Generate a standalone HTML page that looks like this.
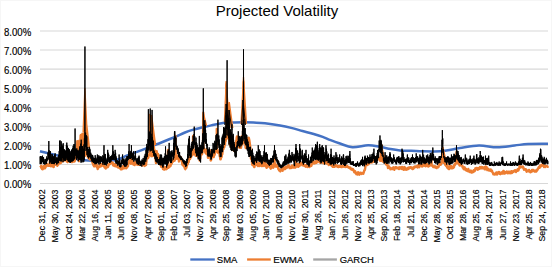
<!DOCTYPE html>
<html><head><meta charset="utf-8"><title>Projected Volatility</title>
<style>
html,body{margin:0;padding:0;background:#fff;}
body{width:552px;height:267px;overflow:hidden;position:relative;font-family:"Liberation Sans",sans-serif;}
svg text{font-family:"Liberation Sans",sans-serif;}
</style></head><body>
<svg width="552" height="267" viewBox="0 0 552 267" style="position:absolute;left:0;top:0">
<rect x="0.5" y="0.5" width="551" height="266" fill="none" stroke="#f6f6f6" stroke-width="1"/>
<text x="277" y="16" font-size="15.0" text-anchor="middle" fill="#000">Projected Volatility</text>
<line x1="40" y1="183.50" x2="548" y2="183.50" stroke="#d8d8d8" stroke-width="1.1"/>
<text x="0" y="0" font-size="9.6" text-anchor="end" fill="#000" stroke="#000" stroke-width="0.15" transform="translate(31.2 188.10) scale(1 1.05)">0.00%</text>
<line x1="40" y1="164.43" x2="548" y2="164.43" stroke="#d8d8d8" stroke-width="1.1"/>
<text x="0" y="0" font-size="9.6" text-anchor="end" fill="#000" stroke="#000" stroke-width="0.15" transform="translate(31.2 169.03) scale(1 1.05)">1.00%</text>
<line x1="40" y1="145.36" x2="548" y2="145.36" stroke="#d8d8d8" stroke-width="1.1"/>
<text x="0" y="0" font-size="9.6" text-anchor="end" fill="#000" stroke="#000" stroke-width="0.15" transform="translate(31.2 149.96) scale(1 1.05)">2.00%</text>
<line x1="40" y1="126.29" x2="548" y2="126.29" stroke="#d8d8d8" stroke-width="1.1"/>
<text x="0" y="0" font-size="9.6" text-anchor="end" fill="#000" stroke="#000" stroke-width="0.15" transform="translate(31.2 130.89) scale(1 1.05)">3.00%</text>
<line x1="40" y1="107.22" x2="548" y2="107.22" stroke="#d8d8d8" stroke-width="1.1"/>
<text x="0" y="0" font-size="9.6" text-anchor="end" fill="#000" stroke="#000" stroke-width="0.15" transform="translate(31.2 111.82) scale(1 1.05)">4.00%</text>
<line x1="40" y1="88.15" x2="548" y2="88.15" stroke="#d8d8d8" stroke-width="1.1"/>
<text x="0" y="0" font-size="9.6" text-anchor="end" fill="#000" stroke="#000" stroke-width="0.15" transform="translate(31.2 92.75) scale(1 1.05)">5.00%</text>
<line x1="40" y1="69.08" x2="548" y2="69.08" stroke="#d8d8d8" stroke-width="1.1"/>
<text x="0" y="0" font-size="9.6" text-anchor="end" fill="#000" stroke="#000" stroke-width="0.15" transform="translate(31.2 73.68) scale(1 1.05)">6.00%</text>
<line x1="40" y1="50.01" x2="548" y2="50.01" stroke="#d8d8d8" stroke-width="1.1"/>
<text x="0" y="0" font-size="9.6" text-anchor="end" fill="#000" stroke="#000" stroke-width="0.15" transform="translate(31.2 54.61) scale(1 1.05)">7.00%</text>
<line x1="40" y1="30.94" x2="548" y2="30.94" stroke="#d8d8d8" stroke-width="1.1"/>
<text x="0" y="0" font-size="9.6" text-anchor="end" fill="#000" stroke="#000" stroke-width="0.15" transform="translate(31.2 35.54) scale(1 1.05)">8.00%</text>
<text x="45.30" y="189.5" font-size="8.75" text-anchor="end" fill="#000" stroke="#000" stroke-width="0.15" transform="rotate(-90 45.30 189.5)">Dec 31, 2002</text>
<text x="58.45" y="189.5" font-size="8.75" text-anchor="end" fill="#000" stroke="#000" stroke-width="0.15" transform="rotate(-90 58.45 189.5)">May 30, 2003</text>
<text x="71.60" y="189.5" font-size="8.75" text-anchor="end" fill="#000" stroke="#000" stroke-width="0.15" transform="rotate(-90 71.60 189.5)">Oct 24, 2003</text>
<text x="84.75" y="189.5" font-size="8.75" text-anchor="end" fill="#000" stroke="#000" stroke-width="0.15" transform="rotate(-90 84.75 189.5)">Mar 22, 2004</text>
<text x="97.90" y="189.5" font-size="8.75" text-anchor="end" fill="#000" stroke="#000" stroke-width="0.15" transform="rotate(-90 97.90 189.5)">Aug 16, 2004</text>
<text x="111.05" y="189.5" font-size="8.75" text-anchor="end" fill="#000" stroke="#000" stroke-width="0.15" transform="rotate(-90 111.05 189.5)">Jan 11, 2005</text>
<text x="124.20" y="189.5" font-size="8.75" text-anchor="end" fill="#000" stroke="#000" stroke-width="0.15" transform="rotate(-90 124.20 189.5)">Jun 08, 2005</text>
<text x="137.35" y="189.5" font-size="8.75" text-anchor="end" fill="#000" stroke="#000" stroke-width="0.15" transform="rotate(-90 137.35 189.5)">Nov 08, 2005</text>
<text x="150.50" y="189.5" font-size="8.75" text-anchor="end" fill="#000" stroke="#000" stroke-width="0.15" transform="rotate(-90 150.50 189.5)">Apr 07, 2006</text>
<text x="163.65" y="189.5" font-size="8.75" text-anchor="end" fill="#000" stroke="#000" stroke-width="0.15" transform="rotate(-90 163.65 189.5)">Sep 01, 2006</text>
<text x="176.80" y="189.5" font-size="8.75" text-anchor="end" fill="#000" stroke="#000" stroke-width="0.15" transform="rotate(-90 176.80 189.5)">Feb 01, 2007</text>
<text x="189.95" y="189.5" font-size="8.75" text-anchor="end" fill="#000" stroke="#000" stroke-width="0.15" transform="rotate(-90 189.95 189.5)">Jul 03, 2007</text>
<text x="203.10" y="189.5" font-size="8.75" text-anchor="end" fill="#000" stroke="#000" stroke-width="0.15" transform="rotate(-90 203.10 189.5)">Nov 27, 2007</text>
<text x="216.25" y="189.5" font-size="8.75" text-anchor="end" fill="#000" stroke="#000" stroke-width="0.15" transform="rotate(-90 216.25 189.5)">Apr 29, 2008</text>
<text x="229.40" y="189.5" font-size="8.75" text-anchor="end" fill="#000" stroke="#000" stroke-width="0.15" transform="rotate(-90 229.40 189.5)">Sep 25, 2008</text>
<text x="242.55" y="189.5" font-size="8.75" text-anchor="end" fill="#000" stroke="#000" stroke-width="0.15" transform="rotate(-90 242.55 189.5)">Mar 03, 2009</text>
<text x="255.70" y="189.5" font-size="8.75" text-anchor="end" fill="#000" stroke="#000" stroke-width="0.15" transform="rotate(-90 255.70 189.5)">Aug 05, 2009</text>
<text x="268.85" y="189.5" font-size="8.75" text-anchor="end" fill="#000" stroke="#000" stroke-width="0.15" transform="rotate(-90 268.85 189.5)">Jan 07, 2010</text>
<text x="282.00" y="189.5" font-size="8.75" text-anchor="end" fill="#000" stroke="#000" stroke-width="0.15" transform="rotate(-90 282.00 189.5)">Jun 08, 2010</text>
<text x="295.15" y="189.5" font-size="8.75" text-anchor="end" fill="#000" stroke="#000" stroke-width="0.15" transform="rotate(-90 295.15 189.5)">Nov 01, 2010</text>
<text x="308.30" y="189.5" font-size="8.75" text-anchor="end" fill="#000" stroke="#000" stroke-width="0.15" transform="rotate(-90 308.30 189.5)">Mar 30, 2011</text>
<text x="321.45" y="189.5" font-size="8.75" text-anchor="end" fill="#000" stroke="#000" stroke-width="0.15" transform="rotate(-90 321.45 189.5)">Aug 26, 2011</text>
<text x="334.60" y="189.5" font-size="8.75" text-anchor="end" fill="#000" stroke="#000" stroke-width="0.15" transform="rotate(-90 334.60 189.5)">Jan 27, 2012</text>
<text x="347.75" y="189.5" font-size="8.75" text-anchor="end" fill="#000" stroke="#000" stroke-width="0.15" transform="rotate(-90 347.75 189.5)">Jun 26, 2012</text>
<text x="360.90" y="189.5" font-size="8.75" text-anchor="end" fill="#000" stroke="#000" stroke-width="0.15" transform="rotate(-90 360.90 189.5)">Nov 23, 2012</text>
<text x="374.05" y="189.5" font-size="8.75" text-anchor="end" fill="#000" stroke="#000" stroke-width="0.15" transform="rotate(-90 374.05 189.5)">Apr 25, 2013</text>
<text x="387.20" y="189.5" font-size="8.75" text-anchor="end" fill="#000" stroke="#000" stroke-width="0.15" transform="rotate(-90 387.20 189.5)">Sep 20, 2013</text>
<text x="400.35" y="189.5" font-size="8.75" text-anchor="end" fill="#000" stroke="#000" stroke-width="0.15" transform="rotate(-90 400.35 189.5)">Feb 18, 2014</text>
<text x="413.50" y="189.5" font-size="8.75" text-anchor="end" fill="#000" stroke="#000" stroke-width="0.15" transform="rotate(-90 413.50 189.5)">Jul 21, 2014</text>
<text x="426.65" y="189.5" font-size="8.75" text-anchor="end" fill="#000" stroke="#000" stroke-width="0.15" transform="rotate(-90 426.65 189.5)">Dec 26, 2014</text>
<text x="439.80" y="189.5" font-size="8.75" text-anchor="end" fill="#000" stroke="#000" stroke-width="0.15" transform="rotate(-90 439.80 189.5)">May 28, 2015</text>
<text x="452.95" y="189.5" font-size="8.75" text-anchor="end" fill="#000" stroke="#000" stroke-width="0.15" transform="rotate(-90 452.95 189.5)">Oct 26, 2015</text>
<text x="466.10" y="189.5" font-size="8.75" text-anchor="end" fill="#000" stroke="#000" stroke-width="0.15" transform="rotate(-90 466.10 189.5)">Mar 28, 2016</text>
<text x="479.25" y="189.5" font-size="8.75" text-anchor="end" fill="#000" stroke="#000" stroke-width="0.15" transform="rotate(-90 479.25 189.5)">Aug 25, 2016</text>
<text x="492.40" y="189.5" font-size="8.75" text-anchor="end" fill="#000" stroke="#000" stroke-width="0.15" transform="rotate(-90 492.40 189.5)">Jan 24, 2017</text>
<text x="505.55" y="189.5" font-size="8.75" text-anchor="end" fill="#000" stroke="#000" stroke-width="0.15" transform="rotate(-90 505.55 189.5)">Jun 27, 2017</text>
<text x="518.70" y="189.5" font-size="8.75" text-anchor="end" fill="#000" stroke="#000" stroke-width="0.15" transform="rotate(-90 518.70 189.5)">Nov 23, 2017</text>
<text x="531.85" y="189.5" font-size="8.75" text-anchor="end" fill="#000" stroke="#000" stroke-width="0.15" transform="rotate(-90 531.85 189.5)">Apr 25, 2018</text>
<text x="545.00" y="189.5" font-size="8.75" text-anchor="end" fill="#000" stroke="#000" stroke-width="0.15" transform="rotate(-90 545.00 189.5)">Sep 24, 2018</text>
<path d="M40.00,151.20 C41.87,151.67 46.90,153.05 51.20,154.00 C55.50,154.95 60.17,155.87 65.80,156.90 C71.43,157.93 79.30,159.53 85.00,160.20 C90.70,160.87 94.68,160.98 100.00,160.90 C105.32,160.82 112.23,160.65 116.90,159.70 C121.57,158.75 123.32,157.00 128.00,155.20 C132.68,153.40 140.08,150.77 145.00,148.90 C149.92,147.03 152.92,145.82 157.50,144.00 C162.08,142.18 167.92,139.92 172.50,138.00 C177.08,136.08 181.67,133.85 185.00,132.50 C188.33,131.15 190.00,130.65 192.50,129.90 C195.00,129.15 196.88,128.75 200.00,128.00 C203.12,127.25 207.03,126.27 211.20,125.40 C215.37,124.53 221.03,123.30 225.00,122.80 C228.97,122.30 231.67,122.48 235.00,122.40 C238.33,122.32 241.88,122.27 245.00,122.30 C248.12,122.33 250.37,122.43 253.70,122.60 C257.03,122.77 260.62,122.82 265.00,123.30 C269.38,123.78 275.63,124.73 280.00,125.50 C284.37,126.27 287.45,126.98 291.20,127.90 C294.95,128.82 298.75,129.98 302.50,131.00 C306.25,132.02 310.33,133.02 313.70,134.00 C317.07,134.98 319.88,135.87 322.70,136.90 C325.52,137.93 327.72,139.10 330.60,140.20 C333.48,141.30 336.37,142.33 340.00,143.50 C343.63,144.67 347.72,146.92 352.40,147.20 C357.08,147.48 363.62,145.30 368.10,145.20 C372.58,145.10 375.55,145.95 379.30,146.60 C383.05,147.25 387.15,148.47 390.60,149.10 C394.05,149.73 396.57,150.12 400.00,150.40 C403.43,150.68 407.45,150.65 411.20,150.80 C414.95,150.95 418.75,151.18 422.50,151.30 C426.25,151.42 429.95,151.58 433.70,151.50 C437.45,151.42 440.62,151.37 445.00,150.80 C449.38,150.23 454.33,148.98 460.00,148.10 C465.67,147.22 472.83,145.63 479.00,145.50 C485.17,145.37 491.08,147.30 497.00,147.30 C502.92,147.30 509.33,146.05 514.50,145.50 C519.67,144.95 522.42,144.28 528.00,144.00 C533.58,143.72 544.67,143.83 548.00,143.80" fill="none" stroke="#4472c4" stroke-width="2.5" stroke-linejoin="round"/><path d="M40.00,167.53 L40.33,167.43 L40.67,166.81 L41.00,166.88 L41.33,165.68 L41.67,168.16 L42.00,169.01 L42.33,167.92 L42.67,169.26 L43.00,168.55 L43.33,167.03 L43.67,168.61 L44.00,165.86 L44.33,167.90 L44.67,168.35 L45.00,168.20 L45.33,167.37 L45.67,166.93 L46.00,165.95 L46.33,164.31 L46.67,165.96 L47.00,165.29 L47.33,164.76 L47.67,164.34 L48.00,165.18 L48.33,165.68 L48.67,165.82 L49.00,164.72 L49.33,165.82 L49.67,165.82 L49.99,156.84 L50.00,165.11 L50.33,165.98 L50.67,163.88 L51.00,166.29 L51.33,164.79 L51.67,163.33 L52.00,164.46 L52.33,164.65 L52.67,164.90 L53.00,165.93 L53.33,166.99 L53.67,166.99 L54.00,164.32 L54.33,164.50 L54.67,164.20 L55.00,164.31 L55.33,164.32 L55.67,164.36 L56.00,164.80 L56.33,164.67 L56.67,165.10 L57.00,164.97 L57.33,165.77 L57.67,165.04 L58.00,162.45 L58.33,164.47 L58.67,162.39 L59.00,162.72 L59.33,160.33 L59.67,159.56 L60.00,161.14 L60.33,161.49 L60.67,163.19 L61.00,158.50 L61.33,162.43 L61.67,159.80 L62.00,160.23 L62.33,159.70 L62.67,160.14 L63.00,158.71 L63.33,159.15 L63.67,161.16 L64.00,158.29 L64.33,159.59 L64.67,158.09 L65.00,157.97 L65.33,157.79 L65.67,159.96 L66.00,160.43 L66.33,160.43 L66.67,161.42 L67.00,158.71 L67.33,159.22 L67.67,162.18 L68.00,158.69 L68.33,160.98 L68.67,160.88 L69.00,158.49 L69.33,159.60 L69.67,158.93 L70.00,158.55 L70.33,159.72 L70.67,159.44 L71.00,161.57 L71.33,161.03 L71.67,160.79 L72.00,162.11 L72.33,161.94 L72.67,159.78 L73.00,157.56 L73.33,158.75 L73.67,159.28 L74.00,161.66 L74.33,161.51 L74.67,161.36 L75.00,159.58 L75.33,154.88 L75.67,156.29 L76.00,157.17 L76.33,153.02 L76.67,152.91 L77.00,151.85 L77.33,141.09 L77.67,151.70 L78.00,145.39 L78.33,157.54 L78.67,151.27 L79.00,161.31 L79.33,140.78 L79.67,141.20 L80.00,141.65 L80.33,143.09 L80.67,135.28 L81.00,134.97 L81.33,156.60 L81.67,139.73 L82.00,135.27 L82.33,140.80 L82.50,133.61 L82.67,143.94 L83.00,143.75 L83.33,149.38 L83.67,156.47 L84.00,153.74 L84.33,153.40 L84.59,126.64 L84.67,153.77 L85.00,155.79 L85.33,154.18 L85.67,154.94 L86.00,154.45 L86.33,153.00 L86.67,154.61 L87.00,151.92 L87.33,153.71 L87.67,155.25 L88.00,157.58 L88.33,156.15 L88.67,156.15 L89.00,157.88 L89.33,158.80 L89.67,159.33 L90.00,157.96 L90.33,156.95 L90.67,157.95 L91.00,157.91 L91.33,159.71 L91.67,160.08 L92.00,160.21 L92.33,161.76 L92.67,163.32 L93.00,163.30 L93.33,165.04 L93.67,164.75 L94.00,166.26 L94.33,164.20 L94.67,166.28 L95.00,164.27 L95.33,164.97 L95.67,166.07 L96.00,165.67 L96.33,165.45 L96.67,164.48 L97.00,167.15 L97.33,167.36 L97.67,169.02 L98.00,168.16 L98.33,167.55 L98.67,167.19 L99.00,166.25 L99.33,166.93 L99.67,166.47 L100.00,164.39 L100.33,164.44 L100.67,163.88 L101.00,166.43 L101.33,165.42 L101.67,165.87 L102.00,165.18 L102.33,163.96 L102.67,165.09 L103.00,164.26 L103.33,165.53 L103.67,165.82 L104.00,165.60 L104.33,166.71 L104.67,167.56 L105.00,167.57 L105.33,167.85 L105.67,168.55 L106.00,166.69 L106.33,166.49 L106.67,167.62 L107.00,166.90 L107.33,165.24 L107.67,165.14 L108.00,167.02 L108.33,165.81 L108.67,164.29 L109.00,164.49 L109.33,164.47 L109.67,162.90 L110.00,164.08 L110.33,162.10 L110.67,162.20 L111.00,161.70 L111.33,163.11 L111.67,162.47 L112.00,162.90 L112.33,162.43 L112.67,162.74 L113.00,164.89 L113.33,165.53 L113.67,164.58 L114.00,165.39 L114.33,164.26 L114.67,165.99 L115.00,164.46 L115.33,164.82 L115.67,166.19 L116.00,165.18 L116.33,166.38 L116.67,165.87 L117.00,165.26 L117.33,166.72 L117.67,167.12 L118.00,167.21 L118.33,167.54 L118.67,166.32 L119.00,166.42 L119.33,167.63 L119.67,168.19 L120.00,167.36 L120.33,168.11 L120.67,168.33 L121.00,169.35 L121.33,168.59 L121.67,169.38 L122.00,168.82 L122.33,166.40 L122.67,166.24 L123.00,168.03 L123.33,165.94 L123.67,167.13 L124.00,168.42 L124.33,167.08 L124.67,166.49 L125.00,167.25 L125.33,165.41 L125.67,166.04 L126.00,168.39 L126.33,167.98 L126.67,167.77 L127.00,167.50 L127.33,166.09 L127.67,166.55 L128.00,166.14 L128.33,163.37 L128.67,163.07 L129.00,162.51 L129.33,161.11 L129.67,159.67 L130.00,160.73 L130.33,162.68 L130.67,161.93 L131.00,163.70 L131.33,160.18 L131.40,153.35 L131.67,159.03 L132.00,162.01 L132.33,161.65 L132.67,161.16 L133.00,163.78 L133.33,164.38 L133.67,164.18 L134.00,164.68 L134.33,164.70 L134.67,164.95 L135.00,162.59 L135.33,161.91 L135.67,162.13 L136.00,163.62 L136.33,163.98 L136.67,163.45 L137.00,164.51 L137.33,164.63 L137.67,164.69 L138.00,164.73 L138.33,164.67 L138.67,163.67 L139.00,164.71 L139.33,164.87 L139.67,164.23 L140.00,164.47 L140.33,164.48 L140.67,164.65 L141.00,164.82 L141.33,164.98 L141.67,165.22 L142.00,165.61 L142.33,165.46 L142.67,164.43 L143.00,164.28 L143.33,165.08 L143.67,163.98 L144.00,164.80 L144.33,165.64 L144.67,165.89 L145.00,163.88 L145.33,165.35 L145.67,162.43 L146.00,165.02 L146.33,161.90 L146.67,159.01 L147.00,157.71 L147.33,156.88 L147.67,156.47 L148.00,158.19 L148.33,157.53 L148.67,154.98 L149.00,154.73 L149.33,153.81 L149.67,153.63 L149.75,115.03 L150.00,150.42 L150.33,151.49 L150.67,152.87 L151.00,155.63 L151.33,156.19 L151.67,156.11 L152.00,153.45 L152.33,156.16 L152.67,145.31 L153.00,152.95 L153.33,151.80 L153.67,145.64 L154.00,147.74 L154.33,156.03 L154.67,150.09 L155.00,153.98 L155.33,158.60 L155.67,159.86 L156.00,163.10 L156.33,156.99 L156.67,151.17 L157.00,156.98 L157.33,157.47 L157.67,156.86 L158.00,153.87 L158.33,155.77 L158.67,155.77 L159.00,160.88 L159.33,158.47 L159.67,161.81 L160.00,164.59 L160.33,163.34 L160.67,162.65 L161.00,165.74 L161.33,166.82 L161.67,166.34 L162.00,165.42 L162.33,166.40 L162.67,167.00 L163.00,169.15 L163.33,167.96 L163.67,166.84 L164.00,169.58 L164.33,169.38 L164.67,169.48 L165.00,168.87 L165.33,168.70 L165.67,167.15 L166.00,168.24 L166.33,169.22 L166.67,166.92 L167.00,168.49 L167.33,166.33 L167.67,164.48 L168.00,149.87 L168.00,167.73 L168.33,167.84 L168.67,167.54 L169.00,165.84 L169.33,166.93 L169.67,166.58 L170.00,166.05 L170.33,166.03 L170.67,165.77 L171.00,161.49 L171.33,163.08 L171.67,163.76 L172.00,161.70 L172.33,160.30 L172.67,161.20 L173.00,161.53 L173.33,159.23 L173.67,158.27 L174.00,158.33 L174.33,159.97 L174.67,160.77 L175.00,156.93 L175.33,155.97 L175.43,135.93 L175.67,156.40 L176.00,156.97 L176.33,155.35 L176.67,158.73 L177.00,156.06 L177.33,157.01 L177.67,156.70 L178.00,156.35 L178.33,155.52 L178.67,158.11 L179.00,161.52 L179.33,160.37 L179.67,158.35 L180.00,159.21 L180.33,157.67 L180.67,157.12 L181.00,159.03 L181.33,158.65 L181.67,159.42 L182.00,161.74 L182.33,164.71 L182.67,162.37 L183.00,165.22 L183.33,165.56 L183.67,164.98 L184.00,163.84 L184.33,166.76 L184.67,167.60 L185.00,168.68 L185.33,169.18 L185.67,168.07 L186.00,165.62 L186.33,167.89 L186.67,166.14 L187.00,164.57 L187.33,164.70 L187.67,164.11 L188.00,162.57 L188.33,161.80 L188.67,162.06 L189.00,158.66 L189.33,158.93 L189.67,157.03 L190.00,159.03 L190.33,155.55 L190.67,154.38 L191.00,157.40 L191.33,154.79 L191.67,155.47 L192.00,155.44 L192.33,152.02 L192.67,154.86 L193.00,151.84 L193.08,135.93 L193.33,150.09 L193.67,152.18 L194.00,150.13 L194.33,150.46 L194.67,152.35 L195.00,154.51 L195.33,154.17 L195.67,155.78 L196.00,152.24 L196.33,153.24 L196.67,153.65 L197.00,155.82 L197.33,155.07 L197.67,155.68 L198.00,156.57 L198.33,154.98 L198.67,156.75 L199.00,157.78 L199.33,158.08 L199.67,160.55 L200.00,157.18 L200.33,158.28 L200.67,154.04 L201.00,152.88 L201.33,154.05 L201.67,151.55 L202.00,154.26 L202.33,152.64 L202.67,151.81 L203.00,149.30 L203.30,112.71 L203.33,145.07 L203.67,147.37 L204.00,149.05 L204.33,149.11 L204.67,149.32 L205.00,150.26 L205.33,152.69 L205.67,151.93 L206.00,153.52 L206.33,151.32 L206.67,149.36 L207.00,153.78 L207.33,154.52 L207.67,153.70 L208.00,157.81 L208.33,156.61 L208.67,155.66 L209.00,157.25 L209.33,153.31 L209.67,151.53 L210.00,150.32 L210.33,152.49 L210.67,160.54 L211.00,160.31 L211.33,158.99 L211.67,152.57 L212.00,156.23 L212.33,155.30 L212.67,156.01 L213.00,155.11 L213.33,156.42 L213.67,157.11 L214.00,155.77 L214.33,152.34 L214.67,154.86 L215.00,152.25 L215.33,152.10 L215.67,149.16 L216.00,151.33 L216.33,150.62 L216.67,149.68 L216.77,128.97 L217.00,149.34 L217.33,149.46 L217.67,152.68 L218.00,151.51 L218.33,151.49 L218.67,152.40 L219.00,151.86 L219.33,152.50 L219.67,155.91 L220.00,156.67 L220.33,159.35 L220.67,159.33 L221.00,157.24 L221.33,157.27 L221.67,156.69 L222.00,152.42 L222.33,154.10 L222.67,149.03 L223.00,147.94 L223.33,149.29 L223.67,147.68 L224.00,147.15 L224.33,147.15 L224.67,143.02 L225.00,144.77 L225.33,139.51 L225.67,141.12 L226.00,135.05 L226.33,135.02 L226.52,115.03 L226.67,137.84 L227.00,135.96 L227.33,138.30 L227.67,135.93 L228.00,135.97 L228.33,137.78 L228.67,138.11 L229.00,138.37 L229.33,140.93 L229.67,141.01 L230.00,145.29 L230.33,144.06 L230.67,145.48 L231.00,143.50 L231.33,144.84 L231.67,148.53 L232.00,149.57 L232.33,146.00 L232.67,146.78 L233.00,147.55 L233.33,147.07 L233.67,148.06 L234.00,150.77 L234.33,148.30 L234.67,146.94 L235.00,147.47 L235.33,146.15 L235.67,145.87 L236.00,141.19 L236.33,141.98 L236.67,137.83 L237.00,136.40 L237.33,138.37 L237.67,142.41 L238.00,147.11 L238.33,144.47 L238.67,143.63 L239.00,145.75 L239.33,143.97 L239.67,147.86 L240.00,145.52 L240.33,144.24 L240.67,141.24 L241.00,147.88 L241.33,145.64 L241.67,136.34 L242.00,140.26 L242.33,144.28 L242.67,137.93 L243.00,141.25 L243.15,115.03 L243.33,142.33 L243.67,141.21 L244.00,143.02 L244.33,139.87 L244.67,142.92 L245.00,142.22 L245.33,144.12 L245.67,147.98 L246.00,146.15 L246.33,139.54 L246.67,141.65 L247.00,143.82 L247.33,141.45 L247.67,141.43 L248.00,138.15 L248.33,141.35 L248.67,137.58 L249.00,138.91 L249.33,140.24 L249.67,142.44 L250.00,144.98 L250.33,147.42 L250.67,154.87 L251.00,158.97 L251.33,156.76 L251.67,158.58 L252.00,162.30 L252.33,164.94 L252.67,162.51 L253.00,164.01 L253.33,165.14 L253.67,158.36 L254.00,166.74 L254.33,167.09 L254.67,160.60 L255.00,160.71 L255.33,165.41 L255.67,162.32 L256.00,160.04 L256.33,159.79 L256.67,162.77 L257.00,164.33 L257.33,165.08 L257.67,165.59 L258.00,166.03 L258.33,163.41 L258.67,163.62 L259.00,163.22 L259.33,164.64 L259.67,165.98 L260.00,163.04 L260.33,165.43 L260.67,165.57 L261.00,165.61 L261.33,165.30 L261.67,165.00 L262.00,166.13 L262.33,164.61 L262.67,163.94 L263.00,164.54 L263.33,161.99 L263.67,164.52 L264.00,165.99 L264.33,164.28 L264.67,164.25 L265.00,165.05 L265.33,162.36 L265.67,163.62 L266.00,165.51 L266.33,167.24 L266.67,167.80 L267.00,167.45 L267.33,165.86 L267.67,166.95 L268.00,165.61 L268.33,163.94 L268.67,165.85 L269.00,166.05 L269.33,164.57 L269.67,164.61 L270.00,165.45 L270.33,167.82 L270.67,168.64 L271.00,167.45 L271.33,165.35 L271.67,167.95 L272.00,167.05 L272.33,166.66 L272.67,164.81 L273.00,166.87 L273.33,167.63 L273.67,164.14 L274.00,163.54 L274.33,165.80 L274.50,156.84 L274.67,163.50 L275.00,163.51 L275.33,166.48 L275.67,164.61 L276.00,164.51 L276.33,164.70 L276.67,165.43 L277.00,166.60 L277.33,166.95 L277.67,166.26 L278.00,167.60 L278.33,169.10 L278.67,168.79 L279.00,170.38 L279.33,170.50 L279.67,170.05 L280.00,170.93 L280.33,171.39 L280.67,170.34 L281.00,169.61 L281.33,170.25 L281.67,169.18 L282.00,168.62 L282.33,170.07 L282.67,170.78 L283.00,169.11 L283.33,167.86 L283.67,168.93 L284.00,167.55 L284.33,167.40 L284.67,167.28 L285.00,169.19 L285.33,168.10 L285.67,167.23 L286.00,167.63 L286.33,168.00 L286.67,166.59 L287.00,166.45 L287.33,167.52 L287.67,166.28 L288.00,165.78 L288.33,166.13 L288.67,165.13 L289.00,166.66 L289.33,166.81 L289.67,168.15 L290.00,168.15 L290.33,166.87 L290.67,166.74 L291.00,168.15 L291.33,167.07 L291.67,167.46 L292.00,165.36 L292.33,167.16 L292.67,166.42 L293.00,167.55 L293.33,167.14 L293.67,165.75 L294.00,167.61 L294.33,167.39 L294.67,165.64 L295.00,166.87 L295.33,167.58 L295.67,165.06 L296.00,156.84 L296.00,165.26 L296.33,164.55 L296.67,164.73 L297.00,166.61 L297.33,165.58 L297.67,164.22 L298.00,164.86 L298.33,166.73 L298.67,164.60 L299.00,163.86 L299.33,165.61 L299.67,165.76 L300.00,164.58 L300.33,163.72 L300.67,163.50 L301.00,162.69 L301.33,164.20 L301.67,162.97 L302.00,163.48 L302.33,165.40 L302.67,164.30 L303.00,163.63 L303.33,164.52 L303.67,164.27 L304.00,165.65 L304.33,165.83 L304.67,164.92 L305.00,165.67 L305.33,165.33 L305.67,166.69 L306.00,165.74 L306.33,165.08 L306.67,166.32 L307.00,166.41 L307.33,166.91 L307.67,166.68 L308.00,166.02 L308.33,165.96 L308.67,165.39 L309.00,166.09 L309.33,167.00 L309.67,166.34 L310.00,165.23 L310.33,165.95 L310.67,166.21 L311.00,165.91 L311.33,165.67 L311.67,164.85 L312.00,162.09 L312.33,163.34 L312.67,162.96 L313.00,162.98 L313.33,161.26 L313.67,162.30 L314.00,163.52 L314.33,163.37 L314.67,162.00 L315.00,161.61 L315.33,162.30 L315.67,161.78 L316.00,162.92 L316.33,162.69 L316.67,161.19 L317.00,162.44 L317.33,160.10 L317.67,160.45 L318.00,159.53 L318.33,160.51 L318.53,154.51 L318.67,159.31 L319.00,161.59 L319.33,159.37 L319.67,162.47 L320.00,161.73 L320.33,162.75 L320.67,160.62 L321.00,161.22 L321.33,161.76 L321.67,161.52 L322.00,162.41 L322.33,162.42 L322.67,162.30 L323.00,162.61 L323.33,163.31 L323.67,163.01 L324.00,163.35 L324.33,163.11 L324.67,161.72 L325.00,162.96 L325.33,160.81 L325.67,161.92 L326.00,161.75 L326.33,161.96 L326.67,163.65 L327.00,161.79 L327.33,161.82 L327.67,163.58 L328.00,163.62 L328.33,163.91 L328.67,165.01 L329.00,163.63 L329.33,164.35 L329.67,164.48 L330.00,163.31 L330.33,163.42 L330.67,164.93 L331.00,164.65 L331.33,164.29 L331.67,165.26 L332.00,165.99 L332.33,165.34 L332.67,166.76 L333.00,165.83 L333.33,166.31 L333.67,165.54 L334.00,166.66 L334.33,166.52 L334.67,166.64 L335.00,165.64 L335.33,165.80 L335.67,165.09 L336.00,165.53 L336.33,166.14 L336.67,165.97 L337.00,165.70 L337.33,166.00 L337.67,166.84 L338.00,166.99 L338.33,166.38 L338.67,166.99 L339.00,165.95 L339.33,165.92 L339.67,166.21 L340.00,166.74 L340.33,165.96 L340.67,166.43 L341.00,166.70 L341.33,166.99 L341.67,166.38 L342.00,166.99 L342.33,166.66 L342.67,166.11 L343.00,165.72 L343.33,166.16 L343.67,165.31 L344.00,166.66 L344.33,166.10 L344.67,166.05 L345.00,165.66 L345.33,166.99 L345.67,166.66 L346.00,166.27 L346.33,166.75 L346.67,166.06 L347.00,165.73 L347.33,166.11 L347.67,166.85 L348.00,166.88 L348.33,167.50 L348.67,167.46 L349.00,167.19 L349.33,167.92 L349.67,167.65 L350.00,167.50 L350.33,167.75 L350.67,168.94 L351.00,169.15 L351.33,168.74 L351.67,168.81 L352.00,169.72 L352.33,169.29 L352.67,168.93 L353.00,169.18 L353.33,170.42 L353.67,170.48 L354.00,171.47 L354.33,172.37 L354.67,172.20 L355.00,171.03 L355.33,171.86 L355.67,173.19 L356.00,172.95 L356.33,174.09 L356.67,173.87 L357.00,173.11 L357.33,174.56 L357.67,172.57 L358.00,173.02 L358.33,172.25 L358.67,172.85 L359.00,174.32 L359.33,174.65 L359.67,174.08 L360.00,173.00 L360.33,172.78 L360.67,172.75 L361.00,173.53 L361.33,173.11 L361.67,173.94 L362.00,172.97 L362.33,173.22 L362.67,173.39 L363.00,173.02 L363.33,173.62 L363.67,172.50 L364.00,171.75 L364.33,170.19 L364.67,170.35 L365.00,169.21 L365.33,167.11 L365.67,165.39 L366.00,164.17 L366.33,163.44 L366.67,163.28 L367.00,164.72 L367.33,164.90 L367.67,164.14 L368.00,164.04 L368.33,163.51 L368.67,164.13 L369.00,163.30 L369.33,161.87 L369.67,162.43 L370.00,161.95 L370.33,161.94 L370.67,161.69 L371.00,162.60 L371.33,162.26 L371.67,162.07 L372.00,161.55 L372.33,161.04 L372.67,162.22 L373.00,160.89 L373.33,160.37 L373.67,161.48 L374.00,161.43 L374.33,161.59 L374.67,160.30 L375.00,159.73 L375.33,159.25 L375.67,158.59 L376.00,158.71 L376.33,157.29 L376.67,157.48 L377.00,158.91 L377.33,158.13 L377.67,158.45 L378.00,158.13 L378.33,157.45 L378.67,158.15 L379.00,158.06 L379.33,159.73 L379.67,158.86 L380.00,160.00 L380.33,158.23 L380.67,158.95 L381.00,157.07 L381.33,156.36 L381.37,145.22 L381.67,157.15 L382.00,159.83 L382.33,160.28 L382.67,161.31 L383.00,161.61 L383.33,160.82 L383.67,160.04 L384.00,159.88 L384.33,160.99 L384.67,162.35 L385.00,160.26 L385.33,161.56 L385.67,162.72 L386.00,164.47 L386.33,164.61 L386.67,163.81 L387.00,163.99 L387.33,165.16 L387.67,165.90 L388.00,168.03 L388.33,165.71 L388.67,167.89 L389.00,166.41 L389.33,167.28 L389.67,167.92 L390.00,167.82 L390.33,169.30 L390.67,169.09 L391.00,168.43 L391.33,168.74 L391.67,168.90 L392.00,168.14 L392.33,168.47 L392.67,169.11 L393.00,167.94 L393.33,167.36 L393.67,167.73 L394.00,168.98 L394.33,169.77 L394.67,168.36 L395.00,168.10 L395.33,167.16 L395.67,167.72 L396.00,167.16 L396.33,167.46 L396.67,168.31 L397.00,167.55 L397.33,168.37 L397.67,168.42 L398.00,168.30 L398.33,168.53 L398.67,167.58 L399.00,169.09 L399.33,167.98 L399.67,168.42 L400.00,167.25 L400.33,167.99 L400.67,167.96 L401.00,168.01 L401.33,168.91 L401.67,168.71 L402.00,166.97 L402.33,168.66 L402.67,167.73 L403.00,168.99 L403.33,169.52 L403.67,169.72 L404.00,168.49 L404.33,167.06 L404.67,169.49 L405.00,167.48 L405.33,168.59 L405.67,168.68 L406.00,168.98 L406.33,169.69 L406.67,168.85 L407.00,169.54 L407.33,169.10 L407.67,167.87 L408.00,169.13 L408.33,168.83 L408.67,168.54 L409.00,167.42 L409.33,168.31 L409.67,168.18 L410.00,168.08 L410.33,167.16 L410.67,167.16 L411.00,167.31 L411.33,167.54 L411.67,167.46 L412.00,168.29 L412.33,169.12 L412.67,168.25 L413.00,168.96 L413.33,167.36 L413.67,168.45 L414.00,167.02 L414.33,167.51 L414.67,167.08 L415.00,166.36 L415.33,166.37 L415.67,167.11 L416.00,166.83 L416.33,166.56 L416.67,166.32 L417.00,166.29 L417.33,166.64 L417.67,167.50 L418.00,165.87 L418.33,165.09 L418.67,166.47 L419.00,166.90 L419.33,167.25 L419.67,165.60 L420.00,165.36 L420.33,164.91 L420.67,165.29 L421.00,165.36 L421.33,165.65 L421.67,165.23 L422.00,166.59 L422.33,166.62 L422.67,166.17 L423.00,164.83 L423.33,164.75 L423.67,164.19 L424.00,164.34 L424.33,164.16 L424.67,165.70 L425.00,164.09 L425.33,163.85 L425.67,166.30 L426.00,165.22 L426.33,164.41 L426.67,165.11 L427.00,164.05 L427.33,164.86 L427.67,165.90 L428.00,166.03 L428.33,166.59 L428.67,165.23 L429.00,165.24 L429.33,165.97 L429.67,164.73 L430.00,164.93 L430.33,164.66 L430.67,164.23 L431.00,165.17 L431.33,164.11 L431.43,160.32 L431.67,164.91 L432.00,165.14 L432.33,165.94 L432.67,165.62 L433.00,166.74 L433.33,166.99 L433.67,166.48 L434.00,166.93 L434.33,166.75 L434.67,166.12 L435.00,166.15 L435.33,167.60 L435.67,167.51 L436.00,167.17 L436.33,167.47 L436.67,168.09 L437.00,166.67 L437.33,166.97 L437.67,166.48 L438.00,167.37 L438.33,167.06 L438.67,166.43 L439.00,165.58 L439.33,164.20 L439.67,164.78 L440.00,164.73 L440.33,164.05 L440.67,164.76 L441.00,164.31 L441.33,163.40 L441.67,161.58 L442.00,160.14 L442.33,158.36 L442.67,157.27 L442.81,148.71 L443.00,156.74 L443.33,161.16 L443.67,156.26 L444.00,162.69 L444.33,159.79 L444.67,161.50 L445.00,163.20 L445.33,164.96 L445.67,163.38 L446.00,165.77 L446.33,163.93 L446.67,163.98 L447.00,167.00 L447.33,167.72 L447.67,166.13 L448.00,168.33 L448.33,168.63 L448.67,168.93 L449.00,169.10 L449.33,167.44 L449.67,166.17 L450.00,166.78 L450.33,166.17 L450.67,166.77 L451.00,168.22 L451.33,166.17 L451.67,166.86 L452.00,166.93 L452.33,166.74 L452.67,168.18 L453.00,167.99 L453.33,167.86 L453.67,166.45 L454.00,167.14 L454.33,164.78 L454.67,164.35 L455.00,164.89 L455.33,164.38 L455.67,162.77 L456.00,162.89 L456.33,158.32 L456.51,152.19 L456.67,161.64 L457.00,161.71 L457.33,160.72 L457.67,163.39 L458.00,161.35 L458.33,163.26 L458.67,161.80 L459.00,164.47 L459.33,164.69 L459.67,165.56 L460.00,165.50 L460.33,164.30 L460.67,164.43 L461.00,164.94 L461.33,164.91 L461.67,165.57 L462.00,165.45 L462.33,165.78 L462.67,167.46 L463.00,167.91 L463.33,166.78 L463.67,169.18 L464.00,168.60 L464.33,168.36 L464.67,167.47 L465.00,168.16 L465.33,169.70 L465.67,170.09 L466.00,168.96 L466.33,170.39 L466.67,170.55 L467.00,170.70 L467.33,170.85 L467.67,170.47 L468.00,171.15 L468.33,169.00 L468.67,170.10 L469.00,171.55 L469.33,170.99 L469.67,171.66 L470.00,172.10 L470.33,171.25 L470.67,171.76 L471.00,170.57 L471.33,171.59 L471.67,172.58 L472.00,171.62 L472.33,172.36 L472.67,172.20 L473.00,172.05 L473.33,171.90 L473.67,170.22 L474.00,171.10 L474.33,171.30 L474.67,171.21 L475.00,170.24 L475.33,168.48 L475.67,168.37 L476.00,168.08 L476.33,168.51 L476.67,168.02 L477.00,168.12 L477.33,169.42 L477.67,169.81 L478.00,169.37 L478.33,168.05 L478.67,169.09 L479.00,167.87 L479.33,168.79 L479.67,168.44 L480.00,166.88 L480.33,167.28 L480.67,167.97 L481.00,168.33 L481.33,166.97 L481.67,166.93 L482.00,167.57 L482.33,168.13 L482.67,167.29 L483.00,167.63 L483.33,168.24 L483.67,168.38 L484.00,167.31 L484.33,167.22 L484.67,169.21 L485.00,168.81 L485.33,169.22 L485.67,166.52 L486.00,167.32 L486.33,167.02 L486.67,167.29 L487.00,168.97 L487.33,170.02 L487.67,169.08 L488.00,169.03 L488.33,168.81 L488.67,169.34 L489.00,170.47 L489.33,169.74 L489.67,170.51 L490.00,169.84 L490.33,170.68 L490.67,169.40 L491.00,171.00 L491.33,170.45 L491.67,170.35 L492.00,170.77 L492.33,171.99 L492.67,172.52 L493.00,172.92 L493.33,174.22 L493.67,173.97 L494.00,174.19 L494.33,173.79 L494.67,174.65 L495.00,174.66 L495.33,173.67 L495.67,173.98 L496.00,173.30 L496.33,172.47 L496.67,173.07 L497.00,174.58 L497.33,173.72 L497.67,173.19 L498.00,172.81 L498.33,172.14 L498.67,172.04 L499.00,171.94 L499.33,172.24 L499.67,173.90 L500.00,173.88 L500.33,174.22 L500.67,173.83 L501.00,173.09 L501.33,172.69 L501.67,172.38 L502.00,173.65 L502.33,172.94 L502.67,173.41 L503.00,172.24 L503.33,170.98 L503.67,170.89 L504.00,172.29 L504.33,173.63 L504.67,172.56 L505.00,173.41 L505.33,172.13 L505.67,172.25 L506.00,172.15 L506.33,171.98 L506.67,171.55 L507.00,172.51 L507.33,173.09 L507.67,172.75 L508.00,173.25 L508.33,171.75 L508.67,172.21 L509.00,172.19 L509.33,171.74 L509.67,172.37 L510.00,173.26 L510.33,172.23 L510.67,171.67 L511.00,171.96 L511.33,171.14 L511.67,172.98 L512.00,172.99 L512.33,172.68 L512.67,171.40 L513.00,171.71 L513.33,171.10 L513.67,171.73 L514.00,171.11 L514.33,171.29 L514.67,171.20 L515.00,170.15 L515.33,171.23 L515.67,171.20 L516.00,172.11 L516.33,170.51 L516.67,170.45 L517.00,170.27 L517.33,170.72 L517.67,169.33 L518.00,169.92 L518.33,170.45 L518.67,169.75 L519.00,168.31 L519.33,167.33 L519.67,165.93 L520.00,167.24 L520.33,167.59 L520.67,167.03 L521.00,167.00 L521.33,166.91 L521.67,166.80 L522.00,166.59 L522.33,166.57 L522.67,167.51 L523.00,166.68 L523.33,167.91 L523.67,168.44 L524.00,169.82 L524.33,169.35 L524.67,169.10 L525.00,169.52 L525.33,169.56 L525.67,169.30 L526.00,169.44 L526.33,171.08 L526.67,171.75 L527.00,170.46 L527.33,170.66 L527.67,170.80 L528.00,170.84 L528.33,170.87 L528.67,171.29 L529.00,169.92 L529.33,171.53 L529.67,171.19 L530.00,170.95 L530.33,172.33 L530.67,172.33 L531.00,171.92 L531.33,171.12 L531.67,171.07 L532.00,169.92 L532.33,170.98 L532.67,171.14 L533.00,169.92 L533.33,169.89 L533.67,170.79 L534.00,170.83 L534.33,171.10 L534.67,171.51 L535.00,170.65 L535.33,171.30 L535.67,171.54 L536.00,170.42 L536.33,171.51 L536.67,170.24 L537.00,170.62 L537.33,169.35 L537.67,169.69 L538.00,168.52 L538.33,168.49 L538.67,167.41 L539.00,166.85 L539.33,167.06 L539.67,167.70 L540.00,165.63 L540.33,165.87 L540.67,166.45 L541.00,165.20 L541.33,166.13 L541.67,164.78 L542.00,165.59 L542.33,164.63 L542.67,164.32 L543.00,164.70 L543.33,165.29 L543.67,165.28 L544.00,166.93 L544.33,166.67 L544.67,166.96 L545.00,167.07 L545.33,166.71 L545.67,165.89 L546.00,166.05 L546.33,165.94 L546.67,165.85 L547.00,166.08 L547.33,166.16 L547.67,166.86 L548.00,166.23" fill="none" stroke="#ed7d31" stroke-width="2.4" stroke-linejoin="round"/><path d="M83.10,132.00 L84.90,88.00 M84.10,132.00 L84.90,88.00 M85.10,132.00 L84.90,88.00 M86.10,132.00 L84.90,88.00 M87.10,132.00 L84.90,88.00 M85.00,148.00 L86.00,118.00 M86.50,148.00 L86.00,118.00 M88.00,148.00 L86.00,118.00 M89.50,148.00 L86.00,118.00 M224.40,122.00 L226.20,81.00 M225.60,122.00 L226.20,81.00 M226.80,122.00 L226.20,81.00 M228.00,122.00 L226.20,81.00 M229.20,122.00 L226.20,81.00 M227.80,128.00 L229.30,102.00 M229.47,128.00 L229.30,102.00 M231.13,128.00 L229.30,102.00 M232.80,128.00 L229.30,102.00 M241.00,124.00 L243.50,77.00 M242.10,124.00 L243.50,77.00 M243.20,124.00 L243.50,77.00 M244.30,124.00 L243.50,77.00 M245.40,124.00 L243.50,77.00 M246.50,124.00 L243.50,77.00 M202.60,126.00 L203.60,114.00 M203.93,126.00 L203.60,114.00 M205.27,126.00 L203.60,114.00 M206.60,126.00 L203.60,114.00 M150.60,145.00 L151.60,115.00 M151.85,145.00 L151.60,115.00 M153.10,145.00 L151.60,115.00 M154.35,145.00 L151.60,115.00 M155.60,145.00 L151.60,115.00 M379.90,162.00 L380.90,143.00 M381.27,162.00 L380.90,143.00 M382.65,162.00 L380.90,143.00 M384.02,162.00 L380.90,143.00 M385.40,162.00 L380.90,143.00 M441.80,164.00 L442.80,147.00 M443.47,164.00 L442.80,147.00 M445.13,164.00 L442.80,147.00 M446.80,164.00 L442.80,147.00 " fill="none" stroke="#ed7d31" stroke-width="1.3"/><polygon points="242.10,120 242.52,82 243.50,78 244.48,82 244.90,120" fill="#ed7d31"/><polygon points="224.80,118 225.13,85 225.90,81 226.67,85 227.00,118" fill="#ed7d31"/><polygon points="84.10,128 84.34,93 84.90,89 85.46,93 85.70,128" fill="#ed7d31"/><path d="M40.00,156.61 L40.20,164.19 L40.40,156.05 L40.60,164.00 L40.80,156.36 L41.00,160.85 L41.20,156.54 L41.40,163.71 L41.60,156.73 L41.80,161.44 L42.00,158.38 L42.20,162.10 L42.40,158.02 L42.55,155.67 L42.60,160.82 L42.80,159.49 L43.00,162.25 L43.20,157.02 L43.40,164.05 L43.60,157.63 L43.80,161.85 L44.00,159.00 L44.20,162.11 L44.40,161.68 L44.60,164.31 L44.80,161.34 L45.00,164.48 L45.20,159.83 L45.40,162.80 L45.60,159.10 L45.80,163.21 L46.00,160.52 L46.20,164.02 L46.40,158.15 L46.60,163.95 L46.80,156.37 L47.00,161.28 L47.20,158.19 L47.40,160.21 L47.60,157.94 L47.80,160.08 L48.00,152.54 L48.20,156.47 L48.40,152.40 L48.60,158.25 L48.80,144.76 L48.82,141.04 L49.00,159.34 L49.20,150.36 L49.40,159.76 L49.60,154.34 L49.80,163.65 L50.00,156.35 L50.20,162.41 L50.40,151.13 L50.60,157.53 L50.80,154.55 L51.00,161.73 L51.20,157.65 L51.40,158.50 L51.60,156.63 L51.80,163.92 L52.00,153.97 L52.20,163.91 L52.40,154.86 L52.60,161.72 L52.80,158.18 L53.00,162.68 L53.20,159.86 L53.40,163.49 L53.60,156.24 L53.80,163.84 L54.00,158.98 L54.20,164.18 L54.40,156.31 L54.60,162.69 L54.80,154.60 L55.00,161.72 L55.10,153.35 L55.20,155.91 L55.40,162.92 L55.60,159.38 L55.80,161.64 L56.00,160.08 L56.20,161.31 L56.40,157.35 L56.60,164.34 L56.80,159.74 L57.00,164.26 L57.20,157.96 L57.40,162.31 L57.60,158.80 L57.80,162.57 L58.00,156.84 L58.20,161.14 L58.40,156.86 L58.60,163.14 L58.80,154.89 L59.00,159.47 L59.20,151.11 L59.40,160.81 L59.60,140.93 L59.80,159.31 L60.00,140.33 L60.20,152.59 L60.40,147.88 L60.60,161.27 L60.80,146.98 L61.00,157.52 L61.20,141.35 L61.40,161.40 L61.60,147.73 L61.80,158.22 L62.00,144.50 L62.20,157.88 L62.40,148.03 L62.60,156.86 L62.80,146.17 L63.00,162.23 L63.20,143.22 L63.40,159.45 L63.60,149.17 L63.80,157.78 L64.00,152.80 L64.20,160.89 L64.40,149.37 L64.60,158.35 L64.80,150.10 L65.00,160.77 L65.20,151.06 L65.40,160.70 L65.60,151.22 L65.80,160.23 L66.00,150.34 L66.20,158.26 L66.40,144.97 L66.60,156.22 L66.80,142.63 L67.00,159.70 L67.20,145.63 L67.40,152.66 L67.60,149.13 L67.80,160.20 L68.00,148.20 L68.20,161.57 L68.40,147.91 L68.60,161.58 L68.80,149.19 L69.00,161.34 L69.20,149.26 L69.40,159.04 L69.60,150.45 L69.80,162.41 L70.00,150.94 L70.20,162.86 L70.40,152.67 L70.60,160.36 L70.80,154.46 L71.00,162.06 L71.20,151.64 L71.40,161.08 L71.60,149.63 L71.80,161.24 L72.00,153.27 L72.20,161.49 L72.40,149.14 L72.60,158.78 L72.80,147.97 L73.00,161.05 L73.20,145.81 L73.40,160.29 L73.60,149.15 L73.80,157.37 L74.00,144.05 L74.20,155.08 L74.40,144.56 L74.60,159.44 L74.80,147.89 L75.00,155.52 L75.07,128.50 L75.20,151.55 L75.40,154.73 L75.60,149.38 L75.80,155.73 L76.00,153.12 L76.20,158.51 L76.40,149.81 L76.60,159.75 L76.80,148.43 L77.00,156.85 L77.20,154.32 L77.40,158.27 L77.60,150.36 L77.80,157.79 L78.00,150.77 L78.20,161.25 L78.40,150.78 L78.60,159.30 L78.80,151.04 L79.00,159.06 L79.20,149.70 L79.40,159.74 L79.60,147.50 L79.80,158.53 L80.00,146.14 L80.20,160.02 L80.40,147.84 L80.60,154.20 L80.80,143.67 L81.00,162.66 L81.20,139.69 L81.40,159.26 L81.60,146.26 L81.80,162.20 L82.00,149.57 L82.20,159.25 L82.40,146.03 L82.60,155.63 L82.80,147.84 L83.00,162.30 L83.20,151.42 L83.40,156.71 L83.60,149.02 L83.80,161.79 L84.00,144.45 L84.20,159.90 L84.40,138.45 L84.60,149.99 L84.80,131.41 L84.94,46.52 L85.00,150.99 L85.20,135.38 L85.40,146.68 L85.60,132.66 L85.80,146.43 L86.00,135.09 L86.20,145.46 L86.40,135.67 L86.60,150.57 L86.80,136.33 L87.00,155.06 L87.20,147.50 L87.40,153.71 L87.60,147.11 L87.80,157.06 L88.00,149.31 L88.20,153.72 L88.40,150.03 L88.60,158.44 L88.80,149.11 L89.00,156.69 L89.20,146.85 L89.40,157.27 L89.60,147.85 L89.80,154.88 L90.00,149.33 L90.20,156.98 L90.40,152.95 L90.60,157.60 L90.80,152.76 L91.00,158.97 L91.20,154.37 L91.40,160.65 L91.60,156.88 L91.80,159.03 L92.00,155.57 L92.20,162.10 L92.40,154.90 L92.60,161.22 L92.80,155.57 L93.00,161.23 L93.20,157.45 L93.40,162.68 L93.60,158.50 L93.80,162.61 L94.00,160.35 L94.20,162.65 L94.40,158.04 L94.60,161.78 L94.80,158.84 L95.00,164.27 L95.20,155.21 L95.40,163.57 L95.60,157.96 L95.80,162.00 L96.00,157.72 L96.20,164.14 L96.40,159.65 L96.60,163.03 L96.80,159.22 L97.00,162.13 L97.20,159.96 L97.36,154.51 L97.40,162.69 L97.60,160.25 L97.80,161.57 L98.00,157.13 L98.20,163.50 L98.40,157.03 L98.60,160.17 L98.80,155.25 L99.00,164.54 L99.20,156.76 L99.40,160.70 L99.60,156.69 L99.80,161.91 L100.00,156.61 L100.20,163.93 L100.40,159.68 L100.60,162.17 L100.80,156.19 L101.00,161.37 L101.20,157.99 L101.40,161.32 L101.60,156.84 L101.80,160.46 L102.00,159.15 L102.20,162.24 L102.40,159.31 L102.60,163.17 L102.80,155.28 L103.00,164.80 L103.20,158.46 L103.40,162.77 L103.60,156.02 L103.80,163.09 L104.00,145.22 L104.00,151.66 L104.20,162.23 L104.40,158.17 L104.60,164.80 L104.80,153.88 L105.00,164.06 L105.20,154.06 L105.40,164.75 L105.60,157.44 L105.80,163.43 L106.00,160.56 L106.20,165.53 L106.40,159.77 L106.60,162.88 L106.80,159.80 L107.00,162.78 L107.20,157.95 L107.40,163.72 L107.60,152.79 L107.72,149.87 L107.80,158.54 L108.00,152.54 L108.20,158.82 L108.40,153.79 L108.60,160.39 L108.80,154.72 L109.00,162.01 L109.20,158.35 L109.40,162.91 L109.60,157.25 L109.80,160.04 L110.00,158.79 L110.20,162.58 L110.40,156.87 L110.60,160.34 L110.80,156.19 L111.00,161.69 L111.20,156.04 L111.40,159.69 L111.60,155.68 L111.80,159.64 L112.00,155.32 L112.20,159.81 L112.40,153.78 L112.60,157.84 L112.80,153.56 L112.82,145.22 L113.00,159.74 L113.20,151.17 L113.40,158.45 L113.60,152.06 L113.80,159.42 L114.00,154.29 L114.20,159.97 L114.40,154.08 L114.60,157.33 L114.80,155.93 L115.00,157.93 L115.15,149.87 L115.20,155.74 L115.40,162.51 L115.60,152.78 L115.80,158.31 L116.00,156.34 L116.20,163.99 L116.40,157.75 L116.60,163.12 L116.80,160.82 L117.00,162.43 L117.20,160.90 L117.40,163.64 L117.60,160.36 L117.80,165.65 L118.00,161.06 L118.20,163.78 L118.40,161.34 L118.60,164.00 L118.80,161.00 L119.00,165.12 L119.10,154.51 L119.20,158.67 L119.40,165.31 L119.60,160.32 L119.80,167.08 L120.00,162.63 L120.20,167.07 L120.40,165.02 L120.60,167.23 L120.80,162.96 L121.00,166.62 L121.20,159.65 L121.40,163.60 L121.60,161.37 L121.80,163.20 L122.00,160.76 L122.20,163.85 L122.40,156.48 L122.58,154.51 L122.60,163.49 L122.80,159.53 L123.00,163.45 L123.20,158.75 L123.40,165.18 L123.60,161.18 L123.80,163.45 L124.00,158.62 L124.20,165.16 L124.40,160.46 L124.60,166.57 L124.80,162.64 L125.00,163.27 L125.20,160.89 L125.40,163.39 L125.60,159.68 L125.80,166.81 L126.00,158.29 L126.20,163.27 L126.40,159.57 L126.60,165.49 L126.80,156.31 L127.00,164.88 L127.20,158.50 L127.40,160.62 L127.60,156.10 L127.80,158.77 L128.00,156.06 L128.20,160.18 L128.40,155.15 L128.60,157.41 L128.80,151.37 L129.00,157.60 L129.08,144.06 L129.20,153.20 L129.40,158.70 L129.60,153.95 L129.80,157.32 L130.00,156.35 L130.20,159.03 L130.40,153.01 L130.60,158.88 L130.80,151.27 L131.00,156.52 L131.20,150.74 L131.40,157.71 L131.40,145.22 L131.60,151.55 L131.80,157.96 L132.00,153.25 L132.20,160.07 L132.40,156.13 L132.60,159.42 L132.80,153.35 L133.00,158.32 L133.20,155.71 L133.40,158.66 L133.60,151.34 L133.80,161.67 L134.00,155.57 L134.20,158.70 L134.40,157.44 L134.60,159.50 L134.80,156.71 L135.00,160.54 L135.20,157.01 L135.35,151.03 L135.40,158.50 L135.60,156.06 L135.80,159.36 L136.00,158.35 L136.20,161.41 L136.40,159.81 L136.60,162.26 L136.80,159.53 L137.00,163.62 L137.20,158.24 L137.40,163.73 L137.60,158.78 L137.80,163.78 L138.00,159.34 L138.20,164.78 L138.40,156.75 L138.60,164.68 L138.80,157.33 L139.00,162.75 L139.07,155.67 L139.20,156.68 L139.40,163.65 L139.60,160.79 L139.80,163.06 L140.00,160.69 L140.20,166.05 L140.40,161.63 L140.60,163.90 L140.80,161.63 L141.00,163.80 L141.20,163.04 L141.40,164.00 L141.60,161.08 L141.80,166.46 L142.00,159.46 L142.20,163.68 L142.40,160.25 L142.60,164.07 L142.80,160.66 L143.00,162.11 L143.20,157.93 L143.40,165.10 L143.60,160.78 L143.80,164.24 L144.00,160.04 L144.20,164.53 L144.40,155.80 L144.60,164.19 L144.80,158.67 L145.00,161.24 L145.20,153.81 L145.40,161.16 L145.60,154.55 L145.80,161.71 L146.00,149.90 L146.20,159.38 L146.40,147.53 L146.60,158.33 L146.80,143.93 L147.00,154.37 L147.20,147.44 L147.40,156.80 L147.60,146.26 L147.80,152.88 L148.00,139.23 L148.20,150.54 L148.36,109.23 L148.40,142.43 L148.60,148.06 L148.80,140.50 L149.00,149.72 L149.20,132.28 L149.40,145.39 L149.60,136.87 L149.80,145.57 L150.00,131.34 L150.20,151.40 L150.21,108.53 L150.40,135.23 L150.60,146.97 L150.80,139.00 L151.00,150.72 L151.20,133.90 L151.40,141.42 L151.60,138.57 L151.80,150.68 L152.00,132.62 L152.07,109.92 L152.20,146.70 L152.40,136.97 L152.60,149.65 L152.80,139.88 L153.00,152.95 L153.20,140.91 L153.40,152.75 L153.60,149.94 L153.80,155.63 L154.00,150.52 L154.20,156.24 L154.40,151.61 L154.60,155.19 L154.80,153.67 L155.00,158.75 L155.20,153.69 L155.40,159.46 L155.60,153.46 L155.80,161.45 L156.00,154.46 L156.20,161.41 L156.40,156.49 L156.60,162.21 L156.80,157.57 L157.00,162.16 L157.20,156.90 L157.40,162.52 L157.60,159.84 L157.80,161.41 L158.00,159.54 L158.20,163.97 L158.40,159.03 L158.60,164.87 L158.80,159.45 L159.00,163.94 L159.20,159.90 L159.40,162.80 L159.60,158.86 L159.80,164.95 L160.00,157.38 L160.20,164.80 L160.20,154.51 L160.40,156.23 L160.60,165.30 L160.80,156.69 L161.00,162.43 L161.20,154.51 L161.40,162.96 L161.60,155.23 L161.80,165.40 L162.00,159.31 L162.20,162.52 L162.40,161.47 L162.60,166.81 L162.80,157.75 L163.00,167.65 L163.20,158.71 L163.40,164.80 L163.60,157.99 L163.80,165.36 L164.00,157.79 L164.20,163.95 L164.40,156.23 L164.60,162.44 L164.80,158.67 L165.00,163.87 L165.20,153.27 L165.40,159.97 L165.54,146.38 L165.60,152.94 L165.80,164.35 L166.00,158.23 L166.20,164.35 L166.40,154.81 L166.60,167.49 L166.80,156.53 L167.00,164.07 L167.20,156.02 L167.40,165.42 L167.60,155.15 L167.80,159.66 L168.00,150.53 L168.20,163.38 L168.40,154.38 L168.60,156.33 L168.80,149.61 L169.00,160.13 L169.16,142.90 L169.20,152.85 L169.40,157.51 L169.60,151.57 L169.80,161.45 L170.00,151.42 L170.20,157.56 L170.40,153.40 L170.60,162.90 L170.80,154.05 L171.00,162.73 L171.20,151.00 L171.40,162.97 L171.60,153.13 L171.80,161.22 L172.00,150.30 L172.20,156.11 L172.40,152.48 L172.60,156.49 L172.80,153.30 L173.00,156.28 L173.20,152.27 L173.40,159.59 L173.60,142.94 L173.80,158.18 L174.00,138.44 L174.20,155.32 L174.40,133.15 L174.50,131.29 L174.60,152.19 L174.80,131.22 L175.00,143.74 L175.20,139.43 L175.40,141.47 L175.60,136.51 L175.80,146.57 L176.00,137.74 L176.20,149.73 L176.40,144.77 L176.60,149.15 L176.80,145.64 L177.00,149.22 L177.20,146.22 L177.40,152.04 L177.60,147.49 L177.80,154.17 L178.00,148.19 L178.20,153.25 L178.40,149.46 L178.60,156.70 L178.80,151.98 L179.00,154.73 L179.20,152.41 L179.40,157.99 L179.60,151.95 L179.80,157.60 L180.00,155.55 L180.20,158.77 L180.40,155.92 L180.60,159.59 L180.80,157.47 L181.00,159.38 L181.20,156.54 L181.40,160.08 L181.60,157.62 L181.80,159.85 L182.00,157.93 L182.20,159.97 L182.40,159.33 L182.60,160.59 L182.80,158.93 L183.00,161.80 L183.20,159.72 L183.40,163.12 L183.60,160.67 L183.80,162.45 L184.00,161.31 L184.20,164.22 L184.40,160.36 L184.60,162.30 L184.80,161.30 L185.00,164.75 L185.20,160.90 L185.40,163.97 L185.60,162.55 L185.80,166.83 L186.00,161.72 L186.20,165.08 L186.40,162.17 L186.60,165.94 L186.80,158.97 L187.00,162.92 L187.20,158.77 L187.40,160.60 L187.60,154.11 L187.80,159.67 L188.00,145.42 L188.20,158.06 L188.40,143.60 L188.60,149.72 L188.80,138.63 L189.00,152.85 L189.20,139.48 L189.37,135.93 L189.40,155.69 L189.60,143.30 L189.80,154.42 L190.00,149.11 L190.20,158.03 L190.40,151.99 L190.60,157.78 L190.80,148.01 L191.00,157.10 L191.20,146.10 L191.40,151.67 L191.60,144.04 L191.80,150.46 L192.00,142.12 L192.20,150.45 L192.40,141.37 L192.60,147.62 L192.80,141.95 L193.00,146.14 L193.20,136.04 L193.40,148.60 L193.60,142.17 L193.80,147.48 L194.00,133.96 L194.20,145.10 L194.24,126.64 L194.40,139.37 L194.60,144.54 L194.80,136.31 L195.00,144.67 L195.20,142.81 L195.40,150.21 L195.60,142.57 L195.80,153.25 L196.00,137.64 L196.20,148.61 L196.40,142.24 L196.60,156.34 L196.80,143.28 L197.00,150.77 L197.20,145.04 L197.40,154.07 L197.60,147.99 L197.80,155.67 L198.00,147.66 L198.20,159.37 L198.40,148.21 L198.60,155.20 L198.80,147.31 L199.00,158.95 L199.20,150.02 L199.35,135.93 L199.40,157.29 L199.60,152.26 L199.80,160.95 L200.00,148.08 L200.20,159.62 L200.40,146.83 L200.60,162.49 L200.80,144.81 L201.00,151.48 L201.20,145.19 L201.40,153.30 L201.60,148.11 L201.80,151.06 L202.00,142.35 L202.20,153.20 L202.40,140.29 L202.60,147.72 L202.80,133.37 L203.00,149.35 L203.20,127.53 L203.30,88.33 L203.40,142.44 L203.60,133.87 L203.80,149.11 L204.00,133.24 L204.20,142.15 L204.40,124.52 L204.60,140.20 L204.80,120.28 L205.00,138.27 L205.20,125.11 L205.40,143.58 L205.60,129.75 L205.80,143.09 L206.00,133.05 L206.20,143.81 L206.40,139.22 L206.60,146.07 L206.80,144.26 L207.00,149.17 L207.20,143.84 L207.40,151.79 L207.60,149.54 L207.80,155.62 L208.00,151.75 L208.20,156.67 L208.40,149.84 L208.60,155.29 L208.80,149.25 L209.00,154.75 L209.20,147.39 L209.40,156.46 L209.60,148.95 L209.80,156.06 L210.00,154.31 L210.20,156.45 L210.40,153.70 L210.60,156.51 L210.80,155.34 L211.00,159.71 L211.20,151.29 L211.40,159.07 L211.60,149.24 L211.80,154.20 L212.00,148.89 L212.20,156.57 L212.40,149.81 L212.60,154.44 L212.80,152.44 L213.00,152.64 L213.05,142.90 L213.20,147.46 L213.40,151.50 L213.60,149.48 L213.80,152.70 L214.00,143.97 L214.20,153.35 L214.40,147.81 L214.60,151.90 L214.80,140.79 L215.00,147.08 L215.20,142.31 L215.40,147.01 L215.60,142.90 L215.80,149.61 L216.00,135.20 L216.20,149.97 L216.40,136.71 L216.60,142.02 L216.80,134.01 L217.00,148.90 L217.20,133.63 L217.40,138.24 L217.60,134.43 L217.80,141.66 L217.93,119.68 L218.00,127.21 L218.20,145.31 L218.40,136.24 L218.60,142.48 L218.80,135.45 L219.00,147.84 L219.20,139.44 L219.40,153.16 L219.60,144.99 L219.80,150.53 L220.00,143.97 L220.20,157.10 L220.40,146.33 L220.60,156.82 L220.80,146.92 L221.00,156.89 L221.20,146.79 L221.40,150.55 L221.60,145.37 L221.80,151.75 L222.00,137.51 L222.20,148.23 L222.40,135.60 L222.60,152.13 L222.80,138.59 L223.00,148.06 L223.20,133.78 L223.40,139.27 L223.60,127.07 L223.80,142.90 L224.00,133.62 L224.20,144.97 L224.40,127.86 L224.60,140.91 L224.80,128.49 L225.00,137.66 L225.20,126.65 L225.40,132.66 L225.60,128.14 L225.80,137.78 L226.00,115.30 L226.20,127.28 L226.40,120.74 L226.60,128.74 L226.80,114.76 L227.00,135.17 L227.10,60.23 L227.20,119.88 L227.40,127.24 L227.60,119.26 L227.80,128.89 L228.00,125.82 L228.20,136.19 L228.40,126.37 L228.60,138.13 L228.80,117.76 L229.00,144.64 L229.20,125.54 L229.40,135.10 L229.60,132.14 L229.80,141.75 L230.00,133.76 L230.20,147.73 L230.40,129.38 L230.60,143.64 L230.80,129.84 L231.00,150.13 L231.20,132.40 L231.40,142.56 L231.60,132.78 L231.80,151.07 L232.00,124.32 L232.00,133.13 L232.20,150.70 L232.40,136.67 L232.60,148.37 L232.80,135.46 L233.00,142.09 L233.20,133.86 L233.40,145.90 L233.60,139.81 L233.80,151.35 L234.00,142.06 L234.20,151.67 L234.40,144.37 L234.60,152.42 L234.80,146.96 L235.00,156.42 L235.20,147.44 L235.40,153.57 L235.60,148.51 L235.80,157.48 L236.00,151.29 L236.20,156.73 L236.40,149.23 L236.60,150.66 L236.80,145.66 L237.00,151.09 L237.20,142.13 L237.40,147.06 L237.60,141.12 L237.80,145.07 L238.00,141.65 L238.20,144.58 L238.27,131.29 L238.40,140.81 L238.60,146.07 L238.80,139.69 L239.00,146.22 L239.20,135.93 L239.40,145.54 L239.60,137.68 L239.80,147.51 L240.00,136.51 L240.20,144.98 L240.40,137.95 L240.60,144.77 L240.80,140.99 L241.00,146.19 L241.20,136.70 L241.40,142.82 L241.60,136.17 L241.80,144.61 L242.00,138.80 L242.20,144.26 L242.40,130.84 L242.60,142.14 L242.80,123.58 L243.00,140.83 L243.20,119.86 L243.40,134.35 L243.50,49.31 L243.60,118.49 L243.80,135.65 L244.00,119.06 L244.20,139.14 L244.40,128.23 L244.60,138.64 L244.80,133.87 L245.00,143.49 L245.20,128.16 L245.40,138.60 L245.60,133.66 L245.80,145.31 L246.00,139.90 L246.20,144.22 L246.40,134.62 L246.60,145.25 L246.80,135.18 L247.00,149.40 L247.20,139.35 L247.40,150.70 L247.60,141.65 L247.80,146.45 L248.00,141.60 L248.20,153.86 L248.40,144.05 L248.60,154.64 L248.80,149.14 L249.00,156.91 L249.20,149.04 L249.40,156.81 L249.60,146.93 L249.80,156.51 L250.00,152.21 L250.20,155.79 L250.40,146.81 L250.60,155.39 L250.80,153.06 L251.00,154.31 L251.20,152.83 L251.40,158.97 L251.60,150.44 L251.80,162.15 L252.00,150.65 L252.20,160.57 L252.40,148.77 L252.60,162.86 L252.80,152.69 L253.00,163.81 L253.20,155.33 L253.40,163.80 L253.60,157.99 L253.80,160.68 L254.00,155.93 L254.20,164.92 L254.40,158.50 L254.60,160.19 L254.80,157.91 L255.00,161.34 L255.20,157.86 L255.40,160.23 L255.60,158.48 L255.80,161.11 L256.00,154.20 L256.20,160.49 L256.40,156.24 L256.60,162.82 L256.80,151.40 L257.00,161.12 L257.20,153.22 L257.40,159.36 L257.60,152.75 L257.80,155.96 L258.00,152.04 L258.20,160.32 L258.24,145.22 L258.40,150.05 L258.60,160.18 L258.80,150.35 L259.00,161.54 L259.20,149.40 L259.40,161.48 L259.60,150.83 L259.80,161.08 L260.00,151.05 L260.20,161.88 L260.40,154.73 L260.60,159.63 L260.80,156.92 L261.00,162.68 L261.20,155.33 L261.40,160.91 L261.60,157.16 L261.80,164.22 L262.00,159.82 L262.20,163.22 L262.40,157.52 L262.60,160.38 L262.80,156.90 L263.00,158.59 L263.20,155.12 L263.40,158.82 L263.60,157.47 L263.80,161.06 L264.00,151.18 L264.20,162.13 L264.40,150.84 L264.51,145.22 L264.60,157.11 L264.80,154.84 L265.00,156.35 L265.20,155.56 L265.40,160.50 L265.60,152.69 L265.80,161.71 L266.00,152.96 L266.20,162.65 L266.40,152.35 L266.60,160.86 L266.80,153.85 L267.00,160.91 L267.20,154.08 L267.40,160.85 L267.60,158.53 L267.80,163.98 L268.00,159.52 L268.20,162.85 L268.40,160.09 L268.60,164.33 L268.80,162.15 L269.00,165.08 L269.20,161.81 L269.40,165.75 L269.60,159.99 L269.80,163.96 L270.00,159.63 L270.20,162.93 L270.40,161.45 L270.60,164.88 L270.80,157.96 L271.00,164.59 L271.20,160.87 L271.40,163.59 L271.60,158.05 L271.80,161.33 L272.00,158.16 L272.20,162.14 L272.40,158.38 L272.60,162.43 L272.80,156.05 L273.00,158.53 L273.20,155.27 L273.40,162.27 L273.60,154.63 L273.80,157.32 L274.00,150.60 L274.20,156.52 L274.40,152.38 L274.50,145.22 L274.60,156.88 L274.80,150.49 L275.00,159.02 L275.20,150.23 L275.40,158.87 L275.60,152.89 L275.80,160.34 L276.00,154.02 L276.20,159.26 L276.40,157.97 L276.60,160.98 L276.80,156.93 L277.00,162.30 L277.20,159.32 L277.40,163.12 L277.60,159.67 L277.80,163.77 L278.00,160.10 L278.20,165.04 L278.40,161.34 L278.60,164.82 L278.80,161.43 L279.00,166.60 L279.20,163.12 L279.40,165.86 L279.60,163.44 L279.80,166.87 L280.00,164.69 L280.20,167.52 L280.40,165.90 L280.60,166.56 L280.80,164.62 L281.00,168.28 L281.20,165.83 L281.40,167.72 L281.60,165.24 L281.80,167.77 L282.00,165.84 L282.20,167.07 L282.40,164.60 L282.60,167.14 L282.80,163.41 L283.00,167.05 L283.20,161.81 L283.40,166.07 L283.60,162.96 L283.80,165.15 L284.00,161.24 L284.20,165.07 L284.40,160.95 L284.60,165.58 L284.80,156.37 L285.00,165.46 L285.20,155.73 L285.40,162.76 L285.60,156.14 L285.80,165.02 L285.88,154.51 L286.00,157.07 L286.20,164.33 L286.40,159.30 L286.60,163.24 L286.80,161.39 L287.00,164.35 L287.20,161.04 L287.40,163.28 L287.60,158.58 L287.80,163.14 L288.00,156.71 L288.20,162.39 L288.40,158.13 L288.60,163.64 L288.80,153.63 L289.00,159.95 L289.20,154.24 L289.36,149.87 L289.40,161.72 L289.60,153.31 L289.80,163.22 L290.00,156.54 L290.20,161.32 L290.40,155.16 L290.60,160.48 L290.80,158.48 L291.00,162.33 L291.20,156.32 L291.40,162.32 L291.60,157.61 L291.80,160.09 L292.00,151.97 L292.20,160.19 L292.40,154.52 L292.60,158.93 L292.80,157.40 L293.00,160.71 L293.20,156.41 L293.40,161.51 L293.60,158.82 L293.80,160.99 L294.00,153.84 L294.20,165.44 L294.40,155.50 L294.60,166.11 L294.80,158.58 L295.00,161.09 L295.20,155.28 L295.40,157.72 L295.60,148.17 L295.80,160.14 L296.00,144.06 L296.00,153.75 L296.20,158.09 L296.40,147.99 L296.60,162.30 L296.80,151.06 L297.00,162.30 L297.20,150.85 L297.40,158.98 L297.60,150.50 L297.80,158.55 L298.00,152.86 L298.20,160.84 L298.40,156.57 L298.60,159.47 L298.80,156.72 L299.00,161.37 L299.20,155.97 L299.40,163.27 L299.60,150.45 L299.72,144.06 L299.80,160.88 L300.00,151.57 L300.20,158.85 L300.40,148.65 L300.60,162.18 L300.80,151.07 L301.00,159.30 L301.20,156.63 L301.40,158.04 L301.60,156.63 L301.80,158.04 L302.00,155.52 L302.20,159.43 L302.27,149.87 L302.40,155.87 L302.60,162.41 L302.80,156.12 L303.00,163.26 L303.20,157.76 L303.40,164.61 L303.60,158.77 L303.80,163.11 L304.00,155.07 L304.20,162.44 L304.40,153.60 L304.60,163.04 L304.80,153.73 L305.00,159.05 L305.20,154.14 L305.40,161.87 L305.60,156.88 L305.80,162.69 L305.99,149.87 L306.00,155.48 L306.20,161.90 L306.40,156.04 L306.60,162.27 L306.80,158.35 L307.00,164.45 L307.20,159.07 L307.40,163.59 L307.60,158.88 L307.80,164.98 L308.00,158.07 L308.20,162.81 L308.40,159.06 L308.54,154.51 L308.60,165.28 L308.80,161.25 L309.00,166.63 L309.20,161.90 L309.40,164.67 L309.60,160.54 L309.80,162.41 L310.00,161.07 L310.20,163.42 L310.40,156.73 L310.60,160.80 L310.80,157.51 L311.00,162.73 L311.20,158.23 L311.40,159.62 L311.60,155.14 L311.80,162.56 L312.00,152.57 L312.20,157.92 L312.26,147.55 L312.40,151.15 L312.60,157.11 L312.80,150.92 L313.00,161.14 L313.20,152.92 L313.40,160.29 L313.60,150.69 L313.80,160.24 L314.00,155.05 L314.20,159.03 L314.40,149.67 L314.60,157.23 L314.80,150.27 L315.00,159.18 L315.20,147.51 L315.40,159.69 L315.60,144.09 L315.80,160.14 L316.00,144.92 L316.20,155.48 L316.40,145.32 L316.60,158.90 L316.80,150.72 L317.00,159.73 L317.20,145.65 L317.37,141.74 L317.40,157.54 L317.60,145.87 L317.80,159.55 L318.00,150.23 L318.20,160.35 L318.40,151.85 L318.60,160.43 L318.80,152.72 L319.00,159.76 L319.20,147.98 L319.40,155.54 L319.60,148.42 L319.69,144.06 L319.80,159.40 L320.00,147.10 L320.20,162.08 L320.40,152.57 L320.60,159.53 L320.80,148.03 L321.00,163.45 L321.20,148.06 L321.40,162.30 L321.60,153.83 L321.80,158.88 L322.00,146.25 L322.20,160.92 L322.24,145.22 L322.40,150.30 L322.60,161.34 L322.80,149.16 L323.00,160.99 L323.20,147.24 L323.40,161.84 L323.60,147.89 L323.80,160.68 L324.00,152.00 L324.20,162.27 L324.40,156.41 L324.60,164.55 L324.80,154.50 L325.00,161.47 L325.20,155.96 L325.40,158.33 L325.60,152.69 L325.80,158.40 L325.96,145.22 L326.00,146.55 L326.20,157.77 L326.40,148.73 L326.60,161.17 L326.80,151.37 L327.00,159.97 L327.20,154.80 L327.40,160.99 L327.60,157.87 L327.80,159.12 L328.00,155.42 L328.20,163.02 L328.40,153.70 L328.60,161.26 L328.80,158.31 L329.00,162.10 L329.20,158.95 L329.40,162.02 L329.60,158.50 L329.80,162.66 L330.00,158.89 L330.20,164.57 L330.40,154.91 L330.60,164.02 L330.80,154.14 L331.00,164.33 L331.07,148.71 L331.20,156.18 L331.40,164.39 L331.60,155.21 L331.80,162.01 L332.00,159.86 L332.20,161.32 L332.40,157.00 L332.60,163.75 L332.80,159.01 L333.00,161.95 L333.20,160.66 L333.40,164.35 L333.60,157.74 L333.80,165.43 L334.00,155.44 L334.20,163.59 L334.40,158.71 L334.60,161.19 L334.80,158.42 L335.00,163.07 L335.20,159.10 L335.40,164.17 L335.60,157.30 L335.80,161.09 L335.94,152.19 L336.00,154.94 L336.20,160.63 L336.40,158.23 L336.60,160.92 L336.80,154.66 L337.00,163.15 L337.20,157.26 L337.40,163.71 L337.60,157.89 L337.80,162.56 L338.00,159.77 L338.20,161.04 L338.40,160.15 L338.60,162.75 L338.80,157.26 L339.00,162.11 L339.20,159.26 L339.40,161.91 L339.60,158.72 L339.66,154.51 L339.80,161.84 L340.00,160.17 L340.20,161.73 L340.40,160.78 L340.60,164.27 L340.80,158.48 L341.00,162.35 L341.20,160.21 L341.40,164.90 L341.60,156.44 L341.80,164.39 L342.00,160.69 L342.20,163.71 L342.40,157.82 L342.60,162.14 L342.80,158.72 L343.00,160.59 L343.20,156.39 L343.38,154.51 L343.40,160.81 L343.60,154.67 L343.80,164.90 L344.00,157.92 L344.20,164.85 L344.40,160.74 L344.60,165.82 L344.80,160.35 L345.00,165.54 L345.20,160.26 L345.40,165.43 L345.60,159.39 L345.80,164.83 L346.00,156.21 L346.20,163.69 L346.40,159.50 L346.60,161.46 L346.80,156.50 L347.00,163.57 L347.09,155.67 L347.20,159.15 L347.40,161.57 L347.60,158.06 L347.80,161.16 L348.00,159.04 L348.20,163.00 L348.40,159.31 L348.60,162.65 L348.80,155.98 L349.00,162.60 L349.20,155.60 L349.40,163.19 L349.60,154.09 L349.80,158.79 L349.88,151.03 L350.00,157.51 L350.20,162.80 L350.40,158.33 L350.60,163.90 L350.80,161.22 L351.00,164.86 L351.20,163.15 L351.40,164.46 L351.60,163.33 L351.80,163.93 L352.00,161.56 L352.20,164.86 L352.40,162.69 L352.60,164.60 L352.80,161.63 L353.00,165.02 L353.20,161.12 L353.40,165.98 L353.60,163.73 L353.80,165.21 L354.00,163.87 L354.20,165.66 L354.40,164.29 L354.60,165.36 L354.80,163.94 L355.00,165.87 L355.20,164.10 L355.40,166.39 L355.60,163.34 L355.80,166.23 L356.00,163.49 L356.20,166.97 L356.40,163.42 L356.60,166.07 L356.80,162.88 L357.00,164.91 L357.20,163.00 L357.40,164.44 L357.54,161.48 L357.60,163.71 L357.80,165.76 L358.00,163.28 L358.20,164.52 L358.40,164.57 L358.60,166.58 L358.80,164.08 L359.00,165.97 L359.20,162.72 L359.40,166.09 L359.60,163.30 L359.80,166.28 L360.00,162.62 L360.20,164.91 L360.40,161.68 L360.60,165.26 L360.80,160.40 L361.00,164.42 L361.20,161.41 L361.40,164.72 L361.60,159.51 L361.80,164.72 L362.00,160.44 L362.20,163.33 L362.40,160.47 L362.55,156.84 L362.60,166.10 L362.80,160.65 L363.00,165.18 L363.20,160.25 L363.40,164.44 L363.60,162.78 L363.80,163.82 L364.00,159.79 L364.20,166.40 L364.40,158.84 L364.60,165.29 L364.80,156.62 L365.00,163.21 L365.11,155.67 L365.20,158.03 L365.40,162.60 L365.60,157.45 L365.80,163.53 L366.00,160.37 L366.20,164.83 L366.40,158.32 L366.60,163.23 L366.80,158.30 L367.00,162.90 L367.20,159.59 L367.40,160.77 L367.43,155.67 L367.60,158.43 L367.80,160.95 L368.00,156.92 L368.20,163.60 L368.40,157.19 L368.60,162.56 L368.80,157.31 L369.00,161.90 L369.20,157.78 L369.40,163.43 L369.60,159.26 L369.80,160.55 L369.99,154.51 L370.00,157.83 L370.20,162.81 L370.40,156.87 L370.60,161.71 L370.80,157.29 L371.00,162.71 L371.20,158.56 L371.40,161.33 L371.60,156.57 L371.80,162.30 L372.00,154.14 L372.20,161.56 L372.40,154.28 L372.60,161.01 L372.80,154.65 L373.00,158.77 L373.20,152.59 L373.40,158.95 L373.60,154.67 L373.80,158.50 L373.93,148.71 L374.00,152.49 L374.20,160.63 L374.40,155.52 L374.60,162.21 L374.80,158.05 L375.00,162.84 L375.20,157.09 L375.40,162.08 L375.60,156.22 L375.80,160.37 L376.00,156.22 L376.20,164.46 L376.40,158.70 L376.60,163.49 L376.80,155.40 L377.00,163.19 L377.20,152.96 L377.40,160.90 L377.60,149.94 L377.80,157.88 L378.00,151.51 L378.20,155.02 L378.40,152.29 L378.60,158.18 L378.80,149.11 L379.00,151.44 L379.20,140.54 L379.40,151.55 L379.60,141.96 L379.80,147.25 L379.97,135.47 L380.00,139.78 L380.20,152.45 L380.40,142.44 L380.60,152.61 L380.80,139.82 L381.00,148.82 L381.20,140.68 L381.40,154.08 L381.60,143.74 L381.80,151.56 L382.00,144.68 L382.20,155.88 L382.40,152.29 L382.60,155.99 L382.80,152.22 L383.00,157.04 L383.20,155.36 L383.40,160.46 L383.60,157.74 L383.80,161.37 L384.00,158.75 L384.20,163.65 L384.40,159.55 L384.60,162.90 L384.80,157.47 L385.00,162.47 L385.08,152.19 L385.20,156.72 L385.40,162.22 L385.60,158.71 L385.80,160.13 L386.00,155.33 L386.20,163.20 L386.40,159.31 L386.60,163.76 L386.80,155.48 L387.00,163.44 L387.20,158.39 L387.40,161.50 L387.60,157.32 L387.80,163.66 L388.00,159.04 L388.20,162.10 L388.40,156.49 L388.60,162.19 L388.80,158.87 L389.00,163.56 L389.20,158.26 L389.40,159.95 L389.60,154.40 L389.80,160.02 L389.96,152.19 L390.00,154.08 L390.20,161.39 L390.40,153.81 L390.60,159.51 L390.80,157.29 L391.00,161.88 L391.20,157.87 L391.40,163.50 L391.60,157.65 L391.80,161.80 L392.00,159.66 L392.20,161.49 L392.40,160.11 L392.60,163.68 L392.80,158.68 L393.00,163.26 L393.20,158.01 L393.40,160.62 L393.60,157.77 L393.67,154.51 L393.80,160.16 L394.00,157.95 L394.20,160.45 L394.40,157.34 L394.60,162.05 L394.80,159.03 L395.00,161.57 L395.20,160.15 L395.40,162.61 L395.60,160.83 L395.80,163.30 L396.00,160.72 L396.20,164.38 L396.40,159.16 L396.60,164.09 L396.80,157.95 L397.00,161.28 L397.20,156.91 L397.40,161.20 L397.60,157.67 L397.80,161.58 L398.00,157.92 L398.20,162.48 L398.40,156.95 L398.60,163.20 L398.80,156.09 L399.00,159.37 L399.20,157.75 L399.40,162.09 L399.60,158.12 L399.80,163.30 L400.00,158.44 L400.20,164.41 L400.40,157.65 L400.60,163.59 L400.80,159.25 L401.00,163.24 L401.20,159.87 L401.40,162.32 L401.60,157.14 L401.80,162.03 L402.00,151.95 L402.03,148.71 L402.20,159.42 L402.40,150.14 L402.60,159.22 L402.80,151.24 L403.00,162.17 L403.20,153.49 L403.40,162.30 L403.60,158.73 L403.80,160.89 L404.00,157.20 L404.20,162.00 L404.40,159.53 L404.60,161.20 L404.80,160.62 L405.00,161.69 L405.20,159.05 L405.40,162.06 L405.60,160.66 L405.80,163.56 L406.00,158.74 L406.20,164.03 L406.40,158.75 L406.60,163.86 L406.80,158.70 L407.00,162.09 L407.20,159.29 L407.38,154.51 L407.40,162.00 L407.60,157.06 L407.80,162.07 L408.00,157.11 L408.20,162.66 L408.40,158.94 L408.60,162.55 L408.80,157.77 L409.00,161.86 L409.20,160.25 L409.40,162.89 L409.60,160.61 L409.80,164.66 L410.00,159.84 L410.20,162.65 L410.40,159.69 L410.60,162.81 L410.80,158.62 L411.00,160.71 L411.20,157.78 L411.40,163.19 L411.60,157.22 L411.80,162.17 L412.00,158.22 L412.20,161.73 L412.40,158.77 L412.48,154.51 L412.60,161.57 L412.80,157.89 L413.00,160.99 L413.20,157.20 L413.40,163.10 L413.60,159.43 L413.80,162.37 L414.00,158.69 L414.20,163.26 L414.40,158.75 L414.60,162.38 L414.80,158.02 L415.00,163.50 L415.20,158.51 L415.40,162.05 L415.60,157.08 L415.80,160.49 L416.00,157.59 L416.20,162.38 L416.20,153.35 L416.40,157.67 L416.60,161.88 L416.80,156.22 L417.00,161.39 L417.20,158.07 L417.40,160.76 L417.60,156.24 L417.80,160.68 L418.00,157.81 L418.20,162.64 L418.40,160.29 L418.60,164.25 L418.80,157.89 L419.00,162.14 L419.20,159.50 L419.40,164.23 L419.60,157.74 L419.80,163.55 L419.92,154.51 L420.00,156.52 L420.20,160.44 L420.40,156.05 L420.60,160.83 L420.80,159.54 L421.00,164.55 L421.20,157.03 L421.40,163.75 L421.60,158.22 L421.80,164.41 L422.00,156.64 L422.20,162.67 L422.40,156.86 L422.60,161.55 L422.70,149.87 L422.80,156.44 L423.00,159.14 L423.20,157.54 L423.40,163.08 L423.60,154.68 L423.80,163.36 L424.00,157.73 L424.20,162.74 L424.40,157.59 L424.60,162.56 L424.80,159.85 L425.00,164.17 L425.20,159.75 L425.40,163.22 L425.60,159.29 L425.80,162.53 L426.00,158.32 L426.20,161.68 L426.40,155.42 L426.60,163.11 L426.80,158.69 L427.00,162.64 L427.20,155.94 L427.40,161.38 L427.60,155.57 L427.72,154.51 L427.80,160.02 L428.00,156.54 L428.20,161.78 L428.40,157.35 L428.60,162.78 L428.80,156.85 L429.00,164.46 L429.20,158.76 L429.40,163.61 L429.60,157.01 L429.80,159.98 L430.00,155.06 L430.20,159.28 L430.27,153.35 L430.40,153.10 L430.60,160.79 L430.80,154.50 L431.00,163.31 L431.20,155.53 L431.40,161.93 L431.60,156.73 L431.80,160.71 L432.00,152.64 L432.20,160.08 L432.40,152.61 L432.60,158.40 L432.80,152.29 L432.82,147.55 L433.00,158.44 L433.20,154.05 L433.40,160.17 L433.60,154.56 L433.80,159.88 L434.00,158.47 L434.20,160.85 L434.40,158.94 L434.60,162.90 L434.80,158.13 L435.00,161.11 L435.20,156.36 L435.40,163.52 L435.60,158.49 L435.80,161.60 L436.00,158.92 L436.20,161.46 L436.40,158.38 L436.60,161.53 L436.80,160.14 L437.00,163.72 L437.20,158.13 L437.40,164.86 L437.60,159.35 L437.80,162.96 L438.00,159.44 L438.20,162.93 L438.40,159.89 L438.60,163.45 L438.80,157.65 L439.00,162.95 L439.20,156.15 L439.40,160.85 L439.60,156.02 L439.80,162.93 L440.00,157.72 L440.20,159.70 L440.40,156.19 L440.60,159.98 L440.80,156.86 L441.00,157.73 L441.20,156.15 L441.40,157.60 L441.60,147.73 L441.80,153.27 L442.00,139.76 L442.20,147.36 L442.35,130.13 L442.40,135.49 L442.60,144.12 L442.80,138.40 L443.00,152.54 L443.20,149.06 L443.40,154.79 L443.60,152.52 L443.80,157.56 L444.00,155.95 L444.20,158.48 L444.40,158.28 L444.60,159.57 L444.80,157.55 L445.00,162.16 L445.20,158.87 L445.40,161.95 L445.60,158.86 L445.80,162.45 L446.00,157.02 L446.20,161.66 L446.40,157.65 L446.60,164.56 L446.80,159.88 L447.00,161.81 L447.20,158.60 L447.40,161.20 L447.60,156.37 L447.69,156.84 L447.80,162.47 L448.00,157.79 L448.20,162.54 L448.40,156.67 L448.60,161.40 L448.80,159.70 L449.00,164.45 L449.20,157.94 L449.40,164.95 L449.60,157.83 L449.80,163.67 L450.00,157.78 L450.20,163.37 L450.40,159.10 L450.60,164.36 L450.80,158.09 L451.00,160.57 L451.20,157.51 L451.40,163.79 L451.40,154.51 L451.60,158.28 L451.80,162.11 L452.00,157.51 L452.20,162.57 L452.40,157.71 L452.60,163.49 L452.80,156.43 L453.00,162.67 L453.20,155.98 L453.40,160.10 L453.60,156.20 L453.80,159.91 L454.00,153.76 L454.20,159.55 L454.40,154.52 L454.60,162.06 L454.80,156.44 L455.00,158.81 L455.20,156.02 L455.40,161.53 L455.60,155.82 L455.80,159.81 L456.00,154.97 L456.20,158.72 L456.40,150.31 L456.51,145.22 L456.60,157.22 L456.80,149.94 L457.00,153.62 L457.20,151.32 L457.40,156.66 L457.60,152.57 L457.80,160.31 L458.00,151.04 L458.20,159.32 L458.40,153.60 L458.60,161.43 L458.80,156.87 L459.00,160.56 L459.20,155.07 L459.40,162.82 L459.60,158.12 L459.80,162.75 L460.00,157.46 L460.20,162.74 L460.40,158.46 L460.60,163.32 L460.80,157.75 L461.00,163.15 L461.20,156.94 L461.40,164.83 L461.60,158.52 L461.80,162.89 L462.00,159.53 L462.20,162.65 L462.40,161.31 L462.60,163.70 L462.80,160.83 L463.00,161.91 L463.20,159.33 L463.40,161.84 L463.60,158.65 L463.80,160.91 L464.00,160.01 L464.20,163.73 L464.40,160.00 L464.60,163.51 L464.80,159.93 L465.00,162.11 L465.20,158.07 L465.34,154.51 L465.40,160.47 L465.60,157.93 L465.80,160.51 L466.00,157.68 L466.20,164.19 L466.40,160.39 L466.60,163.20 L466.80,158.47 L467.00,163.04 L467.20,160.91 L467.40,164.65 L467.60,161.05 L467.80,164.22 L468.00,159.76 L468.20,164.12 L468.40,160.87 L468.60,163.35 L468.80,160.57 L469.00,164.02 L469.20,158.90 L469.40,163.83 L469.60,158.74 L469.80,162.88 L470.00,159.80 L470.20,162.87 L470.21,155.67 L470.40,159.27 L470.60,161.69 L470.80,158.86 L471.00,161.40 L471.20,160.06 L471.40,164.86 L471.60,159.88 L471.80,163.18 L472.00,159.22 L472.20,163.53 L472.40,159.80 L472.60,163.70 L472.80,159.97 L473.00,163.76 L473.20,158.02 L473.40,162.22 L473.60,157.87 L473.80,161.26 L473.93,155.67 L474.00,158.16 L474.20,162.49 L474.40,159.94 L474.60,162.89 L474.80,158.89 L475.00,164.41 L475.20,159.66 L475.40,164.29 L475.60,161.45 L475.80,162.12 L476.00,160.14 L476.20,163.38 L476.40,158.35 L476.48,154.51 L476.60,161.02 L476.80,154.18 L477.00,160.86 L477.20,158.71 L477.40,163.22 L477.60,158.48 L477.80,161.93 L478.00,160.22 L478.20,163.49 L478.40,159.29 L478.60,163.68 L478.80,157.36 L479.00,163.41 L479.20,159.12 L479.40,161.46 L479.60,158.43 L479.80,161.61 L480.00,155.25 L480.20,161.60 L480.20,151.03 L480.40,154.43 L480.60,161.83 L480.80,156.44 L481.00,162.35 L481.20,155.44 L481.40,160.43 L481.60,156.24 L481.80,162.23 L482.00,158.00 L482.20,163.94 L482.40,156.96 L482.60,163.89 L482.80,157.04 L483.00,163.26 L483.20,157.60 L483.40,161.77 L483.60,156.55 L483.80,164.68 L484.00,160.22 L484.20,163.06 L484.40,160.52 L484.60,163.21 L484.80,160.20 L485.00,162.90 L485.20,160.48 L485.40,164.77 L485.54,155.67 L485.60,160.54 L485.80,162.94 L486.00,158.23 L486.20,164.17 L486.40,159.33 L486.60,162.69 L486.80,158.28 L487.00,165.02 L487.20,158.40 L487.40,164.84 L487.60,159.62 L487.80,163.85 L488.00,157.76 L488.20,164.62 L488.40,158.48 L488.60,161.85 L488.70,155.67 L488.80,159.21 L489.00,163.67 L489.20,162.84 L489.40,165.51 L489.60,162.27 L489.80,166.02 L490.00,162.92 L490.20,165.94 L490.40,163.90 L490.60,165.51 L490.80,162.51 L491.00,165.04 L491.20,163.90 L491.40,164.36 L491.60,162.86 L491.72,161.94 L491.80,165.23 L492.00,163.14 L492.20,165.93 L492.40,164.26 L492.60,165.30 L492.80,164.55 L493.00,165.10 L493.20,164.70 L493.40,165.49 L493.60,164.31 L493.80,166.11 L494.00,164.37 L494.20,164.76 L494.27,161.48 L494.40,162.64 L494.60,164.96 L494.80,163.53 L495.00,165.97 L495.20,162.78 L495.40,165.53 L495.60,164.17 L495.80,165.08 L496.00,163.15 L496.20,164.75 L496.40,163.16 L496.60,164.11 L496.80,162.90 L496.82,161.94 L497.00,165.46 L497.20,162.98 L497.40,164.56 L497.60,163.03 L497.80,165.25 L498.00,163.90 L498.20,165.75 L498.40,164.19 L498.60,165.39 L498.80,162.81 L499.00,164.16 L499.15,161.48 L499.20,163.18 L499.40,165.59 L499.60,163.35 L499.80,164.54 L500.00,163.65 L500.20,165.43 L500.40,162.81 L500.60,165.60 L500.80,162.93 L501.00,163.82 L501.20,161.91 L501.40,164.07 L501.60,161.81 L501.80,162.22 L502.00,157.19 L502.20,161.88 L502.40,160.13 L502.60,165.14 L502.63,156.84 L502.80,160.00 L503.00,163.11 L503.20,161.35 L503.40,163.12 L503.60,162.10 L503.80,165.51 L504.00,164.00 L504.20,165.45 L504.40,163.63 L504.60,166.02 L504.80,163.56 L505.00,165.59 L505.20,164.51 L505.40,165.81 L505.60,163.63 L505.80,165.14 L506.00,163.30 L506.20,164.95 L506.40,163.29 L506.58,161.48 L506.60,165.08 L506.80,163.68 L507.00,165.15 L507.20,164.23 L507.40,165.42 L507.60,163.83 L507.80,165.73 L508.00,163.83 L508.20,165.13 L508.40,163.93 L508.60,165.18 L508.80,163.60 L509.00,165.11 L509.20,164.57 L509.40,165.26 L509.60,163.74 L509.80,165.03 L510.00,164.15 L510.20,165.97 L510.40,163.74 L510.53,161.48 L510.60,165.15 L510.80,162.80 L511.00,165.77 L511.20,163.08 L511.40,165.55 L511.60,163.93 L511.80,164.86 L512.00,163.59 L512.20,165.77 L512.40,163.05 L512.60,165.61 L512.80,162.94 L513.00,164.68 L513.08,161.94 L513.20,163.00 L513.40,164.49 L513.60,162.52 L513.80,165.22 L514.00,162.50 L514.20,165.57 L514.40,163.95 L514.60,165.78 L514.80,163.23 L515.00,165.33 L515.20,163.64 L515.40,164.59 L515.40,161.48 L515.60,162.85 L515.80,164.47 L516.00,162.52 L516.20,165.04 L516.40,163.58 L516.60,164.62 L516.80,163.29 L517.00,165.93 L517.20,162.98 L517.40,165.69 L517.60,163.04 L517.80,164.77 L518.00,163.04 L518.20,165.37 L518.40,161.95 L518.60,164.38 L518.80,161.39 L519.00,163.72 L519.20,157.29 L519.35,155.67 L519.40,164.60 L519.60,158.99 L519.80,164.92 L520.00,158.75 L520.20,164.70 L520.40,161.12 L520.60,164.59 L520.80,161.89 L521.00,165.15 L521.20,162.67 L521.40,164.81 L521.60,160.08 L521.80,163.08 L522.00,159.93 L522.20,163.46 L522.40,158.12 L522.60,162.26 L522.80,157.60 L523.00,162.34 L523.07,154.51 L523.20,159.61 L523.40,164.28 L523.60,160.19 L523.80,161.28 L524.00,159.94 L524.20,161.81 L524.40,161.27 L524.60,164.75 L524.80,160.54 L525.00,163.31 L525.20,162.69 L525.40,162.97 L525.60,162.76 L525.80,165.39 L526.00,163.00 L526.20,164.04 L526.40,162.90 L526.60,165.02 L526.80,164.20 L527.00,165.26 L527.20,163.53 L527.40,165.21 L527.60,163.41 L527.80,164.98 L527.94,161.48 L528.00,163.45 L528.20,165.62 L528.40,162.46 L528.60,164.97 L528.80,163.00 L529.00,165.61 L529.20,162.89 L529.40,165.63 L529.60,163.08 L529.80,165.50 L530.00,163.48 L530.20,164.71 L530.40,163.31 L530.50,161.94 L530.60,164.45 L530.80,163.47 L531.00,165.49 L531.20,164.05 L531.40,165.91 L531.60,163.31 L531.80,165.73 L532.00,162.89 L532.20,165.84 L532.40,163.76 L532.60,164.75 L532.80,163.92 L533.00,165.86 L533.20,164.61 L533.40,165.10 L533.60,162.67 L533.80,164.65 L534.00,163.37 L534.20,165.42 L534.21,161.02 L534.40,162.05 L534.60,165.08 L534.80,161.68 L535.00,165.38 L535.20,163.05 L535.40,165.21 L535.60,161.74 L535.80,164.62 L536.00,162.04 L536.20,165.35 L536.40,160.28 L536.60,164.83 L536.80,159.93 L537.00,164.91 L537.20,160.76 L537.40,162.92 L537.60,160.42 L537.80,162.91 L538.00,160.39 L538.20,163.68 L538.40,159.36 L538.60,164.17 L538.80,157.68 L539.00,162.14 L539.20,158.74 L539.40,161.15 L539.60,154.65 L539.80,162.51 L540.00,153.12 L540.20,160.63 L540.40,151.66 L540.48,148.71 L540.60,159.12 L540.80,149.28 L541.00,156.43 L541.20,155.87 L541.40,162.30 L541.60,155.38 L541.80,162.45 L542.00,156.76 L542.20,160.58 L542.40,158.72 L542.60,163.80 L542.80,159.79 L543.00,162.23 L543.20,158.98 L543.40,162.22 L543.60,160.30 L543.80,164.27 L544.00,158.20 L544.20,162.56 L544.20,156.84 L544.40,157.92 L544.60,163.88 L544.80,159.32 L545.00,164.49 L545.20,160.33 L545.40,163.36 L545.60,159.75 L545.80,162.31 L546.00,161.01 L546.20,163.50 L546.40,157.83 L546.60,161.81 L546.80,159.41 L547.00,162.33 L547.20,160.03 L547.40,163.46 L547.60,160.56 L547.80,164.21 L548.00,161.26" fill="none" stroke="#000" stroke-width="1.0" stroke-linejoin="round"/><path d="M224.70,125.00 L226.20,104.00 M226.70,125.00 L226.20,104.00 M228.70,125.00 L226.20,104.00 M227.50,130.00 L229.00,110.00 M229.75,130.00 L229.00,110.00 M232.00,130.00 L229.00,110.00 M241.50,125.00 L243.00,100.00 M243.50,125.00 L243.00,100.00 M245.50,125.00 L243.00,100.00 " fill="none" stroke="#000" stroke-width="0.9"/>
<line x1="190.3" y1="259.5" x2="214.8" y2="259.5" stroke="#4472c4" stroke-width="2.3"/>
<text x="216.8" y="263.4" font-size="9.5" fill="#000" stroke="#000" stroke-width="0.15" textLength="20.6" lengthAdjust="spacingAndGlyphs">SMA</text>
<line x1="247.1" y1="259.5" x2="270.8" y2="259.5" stroke="#ed7d31" stroke-width="2.3"/>
<text x="273.2" y="263.4" font-size="9.5" fill="#000" stroke="#000" stroke-width="0.15" textLength="30.3" lengthAdjust="spacingAndGlyphs">EWMA</text>
<line x1="313.2" y1="259.5" x2="336.9" y2="259.5" stroke="#a5a5a5" stroke-width="2.3"/>
<text x="339.7" y="263.4" font-size="9.5" fill="#000" stroke="#000" stroke-width="0.15" textLength="34.2" lengthAdjust="spacingAndGlyphs">GARCH</text>
</svg>
</body></html>
